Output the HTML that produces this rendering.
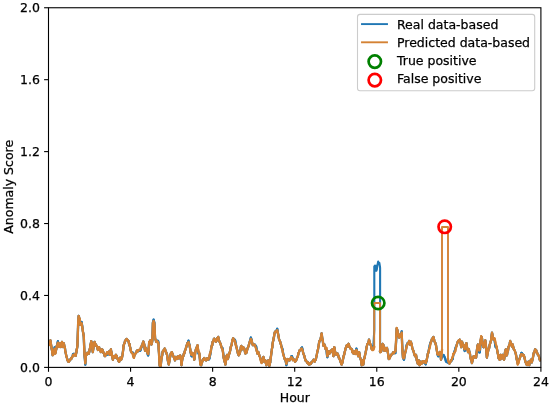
<!DOCTYPE html>
<html><head><meta charset="utf-8"><title>Anomaly Score</title>
<style>
html,body{margin:0;padding:0;background:#fff;}
svg{display:block;}
text{font-family:"DejaVu Sans","Liberation Sans",sans-serif;font-size:12.5px;fill:#000;stroke:#000;stroke-width:0.25px;}
</style></head><body>
<svg width="550" height="405" viewBox="0 0 550 405">
<rect width="550" height="405" fill="#fff"/>
<clipPath id="c"><rect x="48.5" y="7.75" width="492.4" height="359.65"/></clipPath>
<g clip-path="url(#c)" fill="none" stroke-linejoin="round" stroke-linecap="square">
<path d="M49.3 344.8L49.7 343.2L50.0 342.1L50.4 340.4L50.8 343.0L51.2 345.6L51.6 348.5L52.0 350.3L52.3 352.9L52.7 355.2L53.0 355.0L53.4 353.8L53.7 352.5L54.1 350.5L54.6 347.4L55.0 350.4L55.3 353.1L55.7 351.9L56.0 350.3L56.4 348.5L56.7 346.0L57.1 345.4L57.5 343.3L57.9 341.2L58.2 343.3L58.6 344.2L59.0 346.9L59.4 344.9L59.7 344.1L60.1 343.3L60.4 345.0L60.8 347.0L61.2 345.5L61.6 343.6L62.0 341.9L62.3 343.8L62.7 345.0L63.0 347.0L63.4 345.3L63.8 343.3L64.2 345.3L64.6 346.5L65.0 348.5L65.3 351.4L65.7 352.7L66.0 354.4L66.4 356.5L66.7 357.1L67.1 358.5L67.5 360.4L67.8 360.7L68.2 361.3L68.5 361.9L68.9 361.7L69.3 361.1L69.7 360.3L70.1 359.6L70.4 359.6L70.8 358.8L71.2 359.1L71.6 357.6L71.9 357.4L72.3 356.9L72.7 356.1L73.0 354.2L73.4 353.9L73.8 353.8L74.1 354.5L74.4 354.0L74.8 353.9L75.2 355.3L75.6 355.9L76.0 354.0L76.4 352.2L76.7 349.6L77.1 348.0L77.4 345.6L77.8 335.2L78.1 324.8L78.4 319.6L78.7 315.9L79.1 317.3L79.4 318.2L79.8 318.9L80.1 322.3L80.4 324.8L80.8 324.6L81.2 323.2L81.6 322.0L81.9 324.1L82.2 325.8L82.6 328.8L83.0 332.0L83.4 333.9L83.8 336.7L84.1 345.4L84.5 354.9L84.9 359.1L85.3 364.6L85.6 359.6L86.0 355.2L86.4 354.4L86.7 354.7L87.1 352.9L87.5 353.7L87.9 352.8L88.2 353.5L88.6 353.9L89.0 353.0L89.3 351.8L89.7 349.1L90.0 348.5L90.4 344.8L90.8 343.8L91.2 341.1L91.5 342.2L91.9 343.5L92.2 345.6L92.5 349.4L92.8 352.2L93.3 348.7L93.7 344.1L94.1 343.0L94.6 341.9L94.9 343.2L95.3 344.5L95.6 345.6L96.0 344.5L96.4 346.0L96.7 346.2L97.1 346.5L97.5 348.5L97.9 350.0L98.3 348.9L98.8 347.2L99.1 347.1L99.5 349.3L99.9 349.3L100.2 350.7L100.5 351.4L100.8 352.1L101.2 350.2L101.5 349.9L101.8 349.3L102.2 350.4L102.5 349.8L102.9 351.4L103.3 352.0L103.6 353.3L104.0 353.5L104.3 353.7L104.7 356.1L105.0 356.2L105.3 355.8L105.6 354.8L105.9 354.5L106.3 354.6L106.7 354.7L107.1 354.3L107.4 354.2L107.8 354.5L108.2 353.8L108.5 352.4L108.8 351.9L109.1 351.4L109.5 353.6L109.8 354.8L110.2 353.0L110.6 350.7L110.9 349.3L111.3 351.9L111.8 353.5L112.1 356.3L112.5 357.4L112.9 359.7L113.2 357.8L113.6 357.3L114.0 356.2L114.3 356.6L114.7 357.0L115.1 357.6L115.4 357.4L115.7 355.2L116.0 354.8L116.4 356.4L116.7 356.0L117.0 357.6L117.4 357.9L117.7 359.3L118.1 359.7L118.5 360.9L118.8 361.5L119.2 361.7L119.5 360.5L119.9 359.1L120.2 357.6L120.5 358.4L120.8 359.3L121.1 359.7L121.6 358.5L122.0 357.6L122.3 355.9L122.6 354.2L122.9 352.1L123.3 348.6L123.6 345.2L124.0 344.5L124.3 343.4L124.7 343.1L125.0 341.0L125.4 340.7L125.8 339.8L126.3 339.3L126.7 338.9L127.1 339.5L127.6 340.4L128.0 340.3L128.5 341.0L128.8 342.6L129.2 344.7L129.5 343.9L129.9 346.5L130.2 347.4L130.5 349.4L130.9 350.9L131.2 352.1L131.6 352.5L131.9 352.5L132.3 353.0L132.6 352.5L132.9 353.5L133.3 354.0L133.6 356.0L134.0 356.9L134.3 355.5L134.7 354.8L135.0 354.0L135.4 353.7L135.7 353.2L136.1 352.8L136.4 352.4L136.8 350.7L137.1 351.5L137.5 351.4L137.8 351.5L138.1 350.1L138.5 350.3L138.8 350.0L139.2 350.2L139.7 350.3L140.1 350.8L140.5 350.3L140.9 348.3L141.2 347.8L141.6 346.8L141.9 345.3L142.3 344.8L142.6 344.0L143.0 342.4L143.3 341.5L143.7 343.9L144.1 343.8L144.4 345.4L144.7 348.7L145.1 350.7L145.4 349.0L145.7 348.9L146.0 347.9L146.4 349.9L146.8 350.6L147.1 352.3L147.5 353.5L147.9 354.9L148.2 355.5L148.6 351.1L148.9 346.5L149.2 342.1L149.5 342.1L149.9 341.5L150.2 340.5L150.6 340.3L150.9 343.1L151.2 342.5L151.5 344.5L152.0 342.5L152.4 339.6L152.7 330.9L152.9 322.4L153.3 321.1L153.6 319.6L154.0 321.3L154.3 322.4L154.7 330.6L155.1 338.3L155.5 339.7L155.8 339.8L156.1 341.7L156.5 341.0L156.8 342.0L157.1 340.8L157.5 340.9L157.8 340.7L158.1 341.0L158.5 342.8L158.7 348.6L159.0 353.1L159.3 359.6L159.6 365.2L159.9 366.2L160.3 365.2L160.7 365.9L161.0 363.1L161.3 359.8L161.6 357.6L162.0 356.1L162.3 354.7L162.6 352.1L163.0 350.9L163.3 351.5L163.7 350.0L164.1 350.3L164.4 349.6L164.7 348.5L165.1 349.3L165.4 350.9L165.7 351.1L166.0 352.1L166.4 352.7L166.7 354.1L167.1 354.8L167.4 357.3L167.8 360.2L168.1 361.7L168.4 362.6L168.8 364.5L169.1 362.8L169.5 360.6L169.9 357.6L170.2 356.9L170.5 354.7L170.8 353.5L171.2 352.6L171.5 353.0L171.8 352.1L172.2 353.1L172.5 354.0L172.9 354.8L173.3 356.5L173.6 356.5L174.0 357.6L174.3 357.4L174.7 359.2L175.0 360.4L175.3 358.3L175.6 358.5L175.9 356.9L176.3 357.8L176.7 358.0L177.1 359.0L177.4 358.1L177.8 357.6L178.2 356.2L178.5 356.9L178.8 358.3L179.1 358.3L179.5 357.3L179.9 357.0L180.2 355.5L180.6 357.3L180.9 357.6L181.2 362.2L181.5 365.2L181.9 361.8L182.3 359.0L182.6 358.5L182.9 356.2L183.3 356.2L183.6 354.6L184.0 353.2L184.3 353.6L184.7 352.1L185.0 350.4L185.3 350.0L185.7 348.9L186.0 347.9L186.4 346.7L186.7 345.2L187.1 344.4L187.4 342.9L187.8 343.1L188.2 341.5L188.5 340.7L188.8 342.3L189.2 343.9L189.5 344.8L189.9 347.4L190.2 349.1L190.6 352.4L190.9 353.4L191.2 355.5L191.6 356.2L191.9 354.4L192.2 353.9L192.5 353.1L192.9 354.4L193.3 355.5L193.6 356.2L194.0 357.9L194.3 359.7L194.6 357.5L195.0 354.7L195.3 352.1L195.7 350.3L196.0 349.0L196.4 348.6L196.8 347.1L197.1 346.8L197.5 345.4L197.8 347.8L198.1 350.4L198.5 353.5L198.8 353.5L199.1 353.2L199.4 354.0L199.9 359.0L200.3 364.5L200.6 364.1L200.9 365.2L201.2 365.2L201.6 362.9L201.9 363.1L202.2 361.7L202.6 360.7L202.9 359.4L203.3 359.7L203.7 359.9L204.0 359.2L204.3 358.0L204.7 359.0L205.0 358.9L205.4 359.8L205.7 359.8L206.1 360.4L206.4 360.1L206.8 359.4L207.2 358.3L207.5 358.8L207.9 358.8L208.2 359.5L208.6 359.5L208.9 359.5L209.2 359.0L209.5 358.4L209.8 355.4L210.2 355.0L210.5 352.6L210.9 350.9L211.2 348.2L211.6 346.5L211.9 345.1L212.3 345.1L212.6 342.0L213.0 341.7L213.3 341.0L213.6 341.1L213.9 338.9L214.3 338.7L214.7 339.8L215.1 339.6L215.4 341.3L215.7 341.0L216.0 341.7L216.4 341.1L216.8 340.3L217.1 338.9L217.5 337.8L217.9 337.5L218.2 336.9L218.6 338.4L218.9 340.0L219.2 341.0L219.5 341.7L219.8 342.3L220.2 343.1L220.5 343.7L220.9 345.2L221.3 346.5L221.6 347.4L222.0 347.5L222.4 347.9L222.7 349.4L223.0 351.6L223.3 354.3L223.7 357.8L224.0 359.1L224.3 360.4L224.7 362.1L225.0 361.8L225.4 364.5L225.7 362.1L226.1 359.2L226.4 356.2L226.7 356.4L227.1 354.8L227.5 357.1L227.9 359.0L228.2 357.6L228.5 356.5L228.9 354.8L229.2 352.9L229.5 353.5L229.8 352.1L230.2 350.4L230.6 348.0L230.9 346.5L231.3 345.8L231.7 344.7L232.0 342.4L232.4 340.3L232.8 339.3L233.2 338.3L233.6 339.1L234.0 339.4L234.4 339.4L234.8 339.8L235.1 340.2L235.5 342.4L235.8 344.6L236.0 344.6L236.4 347.3L236.7 347.8L237.1 350.0L237.4 350.5L237.8 353.2L238.1 353.5L238.4 354.4L238.7 355.3L239.0 354.8L239.4 354.3L239.8 352.6L240.1 352.1L240.5 350.1L240.9 346.8L241.3 345.9L241.6 346.6L241.9 348.1L242.2 349.3L242.5 348.9L242.9 347.6L243.2 347.2L243.6 347.6L243.9 348.4L244.3 348.6L244.7 350.4L245.0 352.2L245.4 353.5L245.7 353.3L246.0 352.8L246.4 352.8L246.7 352.0L247.0 350.5L247.3 349.3L247.7 348.0L248.1 347.2L248.4 346.5L248.8 345.2L249.2 343.7L249.5 342.4L249.9 341.3L250.2 340.0L250.6 338.9L250.9 337.5L251.2 338.7L251.6 339.5L251.9 341.4L252.2 343.1L252.5 344.5L252.9 345.2L253.2 345.1L253.6 344.6L254.0 344.5L254.3 345.2L254.7 345.0L255.0 344.6L255.3 345.5L255.7 346.1L256.1 346.3L256.5 348.5L256.8 350.6L257.1 351.4L257.4 353.5L257.7 351.7L258.1 352.0L258.4 352.1L258.8 354.2L259.1 354.6L259.5 356.2L259.9 356.7L260.2 357.7L260.6 358.9L260.9 359.9L261.2 360.9L261.6 362.2L261.9 361.5L262.2 361.3L262.5 359.7L262.9 358.6L263.4 356.9L263.7 358.5L264.0 360.4L264.3 361.7L264.6 362.1L265.0 361.3L265.3 360.4L265.7 362.5L266.0 363.0L266.4 365.2L266.8 363.7L267.1 362.8L267.5 361.1L267.8 360.7L268.1 361.1L268.5 360.4L268.8 362.5L269.1 364.5L269.4 365.9L269.8 363.5L270.2 362.6L270.5 359.0L270.9 356.8L271.3 353.3L271.7 350.7L272.0 348.4L272.3 347.4L272.6 343.8L272.9 341.8L273.3 340.5L273.6 338.3L274.0 336.9L274.3 334.6L274.7 332.7L275.0 331.8L275.4 332.1L275.7 331.9L276.1 331.1L276.4 330.9L276.8 330.0L277.2 328.8L277.5 330.5L277.8 332.5L278.1 333.8L278.5 336.2L278.8 337.9L279.1 339.6L279.5 340.4L279.8 340.9L280.2 341.7L280.6 343.7L281.0 344.4L281.3 346.3L281.6 346.7L282.0 347.8L282.3 348.6L282.6 349.5L282.9 352.0L283.3 354.2L283.6 354.9L284.0 356.8L284.4 358.3L284.7 359.0L285.1 359.5L285.5 360.0L285.8 361.7L286.1 363.4L286.4 365.2L286.8 362.5L287.1 362.2L287.4 359.3L287.8 359.5L288.1 360.0L288.5 359.7L288.9 359.5L289.2 360.0L289.6 360.4L289.9 358.8L290.3 359.4L290.6 358.3L290.9 358.3L291.3 356.3L291.6 356.7L292.0 356.2L292.3 357.8L292.6 357.9L292.9 360.0L293.3 359.2L293.7 359.4L294.0 359.7L294.4 360.0L294.8 360.4L295.1 361.7L295.5 361.3L295.8 360.9L296.1 360.4L296.4 359.8L296.8 358.9L297.1 357.6L297.4 357.4L297.8 356.3L298.2 354.8L298.5 353.0L298.9 352.3L299.3 351.4L299.6 350.4L299.9 349.9L300.3 350.0L300.6 349.5L300.9 348.9L301.2 348.1L301.6 348.4L302.0 347.4L302.3 348.9L302.6 349.8L303.0 351.9L303.3 353.4L303.7 354.3L304.0 355.1L304.4 356.2L304.7 357.6L305.0 358.6L305.4 360.4L305.7 360.7L306.0 360.4L306.3 361.2L306.7 361.7L307.0 362.1L307.4 363.1L307.8 363.4L308.2 362.5L308.6 363.7L309.0 364.5L309.5 364.4L309.9 363.4L310.4 364.1L310.8 363.8L311.2 363.4L311.5 362.1L311.9 362.1L312.2 361.7L312.6 361.1L312.9 360.9L313.3 360.5L313.6 359.7L313.9 360.3L314.2 360.6L314.6 361.7L314.9 361.0L315.3 360.3L315.7 359.7L316.0 358.4L316.4 356.6L316.8 354.8L317.1 353.1L317.4 351.4L317.7 350.7L318.1 348.7L318.4 346.6L318.7 345.2L319.1 342.5L319.5 341.0L319.9 340.5L320.2 339.9L320.5 339.6L320.9 337.6L321.2 335.8L321.6 333.4L321.9 335.3L322.3 338.7L322.6 339.6L322.9 341.5L323.2 344.3L323.5 345.9L324.0 345.2L324.4 344.5L324.7 346.4L325.0 346.0L325.3 348.6L325.7 348.5L326.1 349.4L326.5 349.7L326.8 353.1L327.1 356.2L327.4 357.2L327.7 355.3L328.1 353.6L328.4 351.4L328.8 352.5L329.1 353.2L329.5 353.5L329.9 352.8L330.2 351.5L330.6 350.7L330.9 351.2L331.2 350.6L331.6 351.4L331.9 351.3L332.2 349.5L332.5 349.3L332.9 352.9L333.4 356.2L333.7 354.3L334.0 350.1L334.3 347.2L334.6 348.9L335.0 351.0L335.3 352.1L335.7 353.0L336.0 353.5L336.4 354.8L336.8 354.5L337.1 354.2L337.5 353.5L337.8 354.7L338.1 354.9L338.5 356.2L338.8 357.8L339.1 358.4L339.4 358.3L339.8 359.5L340.2 360.7L340.5 361.7L340.9 362.5L341.3 364.3L341.7 364.5L342.0 363.2L342.3 363.0L342.6 361.7L342.9 359.7L343.3 357.7L343.6 356.2L344.0 355.2L344.3 354.1L344.7 352.1L345.1 350.7L345.4 349.0L345.8 347.9L346.1 347.4L346.4 346.1L346.8 345.2L347.1 345.5L347.4 346.4L347.7 345.9L348.1 345.4L348.6 343.8L348.9 344.4L349.2 346.8L349.5 346.5L349.8 347.2L350.2 348.3L350.5 348.6L350.9 348.5L351.2 349.1L351.6 349.3L352.0 349.4L352.3 352.0L352.7 352.1L353.0 353.2L353.3 352.4L353.7 353.5L354.0 352.0L354.3 351.3L354.6 351.4L355.1 353.4L355.5 353.8L355.8 351.8L356.1 350.3L356.4 348.6L356.8 349.9L357.1 351.5L357.4 353.1L357.8 354.3L358.2 356.2L358.6 354.2L359.1 352.1L359.5 353.8L359.9 356.9L360.2 357.8L360.5 358.9L360.9 359.7L361.3 362.7L361.7 365.2L362.0 363.5L362.3 361.5L362.7 360.4L363.0 362.5L363.3 364.5L363.7 361.5L364.0 359.0L364.4 358.4L364.8 356.6L365.1 354.8L365.6 352.7L366.0 350.7L366.4 348.6L366.7 346.7L367.1 345.2L367.4 344.0L367.8 343.6L368.1 343.1L368.4 342.1L368.7 341.0L369.0 339.6L369.4 341.3L369.8 343.4L370.1 343.8L370.5 344.3L370.9 345.6L371.3 346.5L371.6 348.6L371.9 346.6L372.2 347.8L372.5 346.7L372.9 347.1L373.2 347.9L374.3 330.0L374.3 266.5L374.9 265.6L375.4 267.6L375.9 265.8L376.3 270.8L376.8 269.5L377.3 266.0L378.2 261.5L378.8 263.6L379.3 262.8L379.8 265.6L380.1 268.0L380.1 352.0L380.9 351.7L381.2 351.4L381.5 349.8L381.9 347.9L382.2 345.9L382.6 343.8L382.9 345.1L383.3 344.7L383.7 346.5L384.0 348.2L384.2 350.7L384.7 349.3L385.1 347.9L385.4 348.3L385.7 349.2L386.0 350.7L386.4 350.1L386.7 348.5L387.0 347.9L387.4 350.3L387.8 352.1L388.2 354.7L388.5 356.8L388.8 359.0L389.1 359.0L389.4 358.5L389.8 358.3L390.1 356.7L390.5 356.4L390.9 355.5L391.2 355.3L391.6 354.3L392.0 354.1L392.3 353.6L392.6 353.6L392.9 352.8L393.3 352.2L393.6 352.7L394.0 353.2L394.3 352.1L394.7 352.0L395.1 352.8L395.4 353.1L395.8 347.5L396.1 341.1L396.4 335.6L396.7 328.5L397.1 329.4L397.5 330.7L397.8 332.7L398.1 333.5L398.5 335.5L398.8 336.5L399.2 337.6L399.5 336.2L399.9 334.8L400.2 334.6L400.5 336.7L400.8 336.4L401.2 334.3L401.7 331.3L401.9 337.7L402.2 345.7L402.6 352.1L403.0 358.0L403.4 358.5L403.7 359.3L404.0 359.7L404.3 357.9L404.6 355.0L405.0 353.8L405.3 352.0L405.7 351.2L406.1 348.7L406.4 346.6L406.8 344.7L407.2 344.2L407.5 343.2L407.8 342.9L408.1 343.1L408.5 342.6L408.8 342.6L409.1 341.0L409.5 343.0L409.9 344.5L410.3 343.7L410.6 343.7L410.9 341.7L411.2 342.8L411.6 344.1L411.9 345.9L412.2 347.5L412.6 348.9L413.0 350.0L413.3 350.6L413.7 351.7L414.1 353.5L414.4 354.5L414.7 355.4L415.1 356.2L415.4 355.1L415.7 355.2L416.0 354.8L416.4 357.3L416.8 360.4L417.2 361.7L417.5 362.6L417.8 363.8L418.1 362.6L418.5 361.3L418.8 360.4L419.2 363.3L419.6 365.2L419.9 364.7L420.3 362.7L420.6 361.7L420.9 362.9L421.2 362.7L421.5 363.8L421.9 362.9L422.3 362.3L422.7 361.1L423.0 362.3L423.4 361.8L423.8 362.4L424.1 361.9L424.4 362.0L424.7 361.8L425.0 362.1L425.4 363.9L425.7 364.3L426.1 362.5L426.5 361.3L426.8 359.6L427.2 357.3L427.5 356.2L427.8 353.8L428.1 353.5L428.5 352.1L428.8 350.3L429.2 347.9L429.6 346.2L429.9 344.7L430.3 343.2L430.7 342.3L431.0 341.6L431.3 341.5L431.6 340.3L432.0 338.9L432.3 338.6L432.6 338.3L433.0 337.6L433.4 336.9L433.8 338.7L434.1 339.6L434.4 341.0L434.7 341.9L435.0 342.1L435.4 343.1L435.7 344.3L436.0 345.2L436.4 348.3L436.7 349.4L437.1 352.1L437.4 354.5L437.8 354.4L438.1 356.2L438.4 356.3L438.7 355.9L439.0 354.8L439.4 354.2L439.8 352.0L440.1 352.1L440.6 354.8L441.0 359.7L442.2 356.0L443.6 355.0L445.0 358.0L446.0 361.5L447.7 362.5L448.8 362.3L449.1 362.4L449.5 363.6L449.8 362.2L450.2 362.0L450.5 361.7L450.8 361.5L451.2 360.5L451.5 359.9L451.8 360.5L452.2 358.9L452.6 359.3L452.9 357.4L453.3 354.3L453.7 354.4L454.0 353.9L454.3 352.1L454.7 351.0L455.0 350.0L455.3 349.2L455.6 347.6L456.0 346.8L456.4 345.9L456.7 345.2L457.1 343.8L457.5 342.4L457.8 341.7L458.2 340.9L458.5 341.1L458.8 340.3L459.1 340.1L459.4 339.9L459.8 339.6L460.2 340.9L460.6 342.4L460.9 345.3L461.3 347.2L461.6 344.7L462.0 341.7L462.3 342.6L462.6 343.9L462.9 344.5L463.3 345.1L463.6 345.3L463.9 346.9L464.3 349.7L464.7 351.0L465.2 349.4L465.6 346.4L466.0 344.2L466.4 343.1L466.8 346.0L467.2 347.9L467.6 350.2L468.1 352.1L468.5 349.9L468.9 349.3L469.2 351.5L469.5 352.2L469.9 353.5L470.2 355.7L470.5 357.2L470.8 359.0L471.2 360.3L471.6 361.0L471.9 363.1L472.3 361.5L472.8 359.0L473.2 357.6L473.6 356.2L474.0 357.6L474.4 357.0L474.7 356.9L475.1 356.2L475.4 356.7L475.8 357.5L476.1 357.6L476.4 354.6L476.7 352.1L477.0 349.3L477.5 345.8L477.9 344.5L478.2 346.1L478.5 349.0L478.8 351.0L479.2 352.4L479.5 352.4L479.8 352.5L480.2 347.6L480.6 341.5L480.9 339.7L481.2 336.7L481.6 337.1L482.0 338.3L482.4 342.1L482.8 345.2L483.3 347.0L483.7 347.2L484.1 345.2L484.5 343.1L484.9 342.3L485.3 340.3L485.7 343.8L486.2 347.9L486.5 352.9L486.9 357.6L487.2 355.7L487.5 354.0L487.8 352.1L488.2 350.9L488.6 348.6L489.1 348.4L489.5 345.9L489.9 344.1L490.3 343.1L490.7 341.4L491.1 340.3L491.5 336.8L492.0 332.7L492.4 334.6L492.8 337.6L493.2 338.8L493.6 339.6L494.0 339.2L494.5 339.4L494.9 342.4L495.3 345.6L495.7 347.2L496.1 347.2L496.5 346.8L496.9 348.6L497.4 351.4L497.8 353.5L498.2 355.1L498.6 358.3L498.9 358.4L499.2 358.9L499.6 359.7L499.9 357.9L500.2 356.9L500.5 354.8L500.9 356.9L501.4 359.0L501.7 357.4L502.0 356.5L502.3 354.8L502.6 356.1L503.0 355.8L503.3 356.2L503.7 358.1L504.1 359.7L504.5 356.5L505.0 352.1L505.4 350.8L505.8 349.3L506.2 351.8L506.6 355.5L507.0 355.0L507.4 352.1L507.9 351.4L508.3 348.6L508.6 346.5L508.9 346.3L509.2 345.2L509.6 344.0L509.9 342.9L510.2 341.0L510.6 342.4L511.0 343.1L511.4 344.7L511.9 346.5L512.3 345.0L512.7 344.5L513.1 346.3L513.5 347.9L513.9 349.5L514.3 350.0L514.8 350.5L515.2 352.1L515.6 352.9L516.0 354.8L516.4 357.2L516.8 359.7L517.2 360.6L517.7 363.2L518.1 361.7L518.5 361.4L518.9 360.1L519.3 359.3L519.7 358.5L520.2 356.9L520.6 355.3L521.0 354.2L521.4 352.9L521.8 352.9L522.2 353.8L522.6 355.2L523.1 355.2L523.5 354.8L523.9 355.5L524.3 356.9L524.7 358.6L525.1 360.4L525.5 362.1L526.0 363.1L526.4 364.4L526.8 364.5L527.2 365.0L527.6 363.8L528.0 362.4L528.4 361.7L528.9 363.3L529.3 365.2L529.7 361.9L530.1 361.1L530.5 361.3L530.9 359.7L531.3 360.7L531.8 362.4L532.2 360.7L532.6 359.0L533.0 357.2L533.4 354.8L533.8 352.8L534.2 352.1L534.7 350.9L535.1 349.3L535.5 349.6L535.9 350.0L536.3 350.5L536.7 352.8L537.1 353.3L537.6 353.5L538.0 355.1L538.4 355.5L538.8 355.6L539.2 357.6L539.6 359.4L540.0 360.4L540.5 359.7" stroke="#1f77b4" stroke-width="2.1"/>
<path d="M49.3 344.8L49.7 343.2L50.0 342.1L50.4 340.4L50.8 343.0L51.2 345.6L51.6 348.5L52.0 350.3L52.3 352.9L52.7 355.2L53.0 355.0L53.4 353.8L53.7 352.5L54.1 350.5L54.6 347.4L55.0 350.4L55.3 353.1L55.7 351.9L56.0 350.3L56.4 348.5L56.7 346.0L57.1 345.4L57.5 343.3L57.9 341.2L58.2 343.3L58.6 344.2L59.0 346.9L59.4 344.9L59.7 344.1L60.1 343.3L60.4 345.0L60.8 347.0L61.2 345.5L61.6 343.6L62.0 341.9L62.3 343.8L62.7 345.0L63.0 347.0L63.4 345.3L63.8 343.3L64.2 345.3L64.6 346.5L65.0 348.5L65.3 351.4L65.7 352.7L66.0 354.4L66.4 356.5L66.7 357.1L67.1 358.5L67.5 360.4L67.8 360.7L68.2 361.3L68.5 361.9L68.9 361.7L69.3 361.1L69.7 360.3L70.1 359.6L70.4 359.6L70.8 358.8L71.2 359.1L71.6 357.6L71.9 357.4L72.3 356.9L72.7 356.1L73.0 354.2L73.4 353.9L73.8 353.8L74.1 354.5L74.4 354.0L74.8 353.9L75.2 355.3L75.6 355.9L76.0 354.0L76.4 352.2L76.7 349.6L77.1 348.0L77.4 345.6L77.8 335.2L78.1 324.8L78.4 319.6L78.7 315.9L79.1 317.3L79.4 318.2L79.8 318.9L80.1 322.3L80.4 324.8L80.8 324.6L81.2 323.2L81.6 322.0L81.9 324.1L82.2 325.8L82.6 328.8L83.0 332.0L83.4 333.9L83.8 336.7L84.1 345.4L84.5 354.9L84.9 359.1L85.3 364.6L85.6 359.6L86.0 355.2L86.4 354.4L86.7 354.7L87.1 352.9L87.5 353.7L87.9 352.8L88.2 353.5L88.6 353.9L89.0 353.0L89.3 351.8L89.7 349.1L90.0 348.5L90.4 344.8L90.8 343.8L91.2 341.1L91.5 342.2L91.9 343.5L92.2 345.6L92.5 349.4L92.8 352.2L93.3 348.7L93.7 344.1L94.1 343.0L94.6 341.9L94.9 343.2L95.3 344.5L95.6 345.6L96.0 344.5L96.4 346.0L96.7 346.2L97.1 346.5L97.5 348.5L97.9 350.0L98.3 348.9L98.8 347.2L99.1 347.1L99.5 349.3L99.9 349.3L100.2 350.7L100.5 351.4L100.8 352.1L101.2 350.2L101.5 349.9L101.8 349.3L102.2 350.4L102.5 349.8L102.9 351.4L103.3 352.0L103.6 353.3L104.0 353.5L104.3 353.7L104.7 356.1L105.0 356.2L105.3 355.8L105.6 354.8L105.9 354.5L106.3 354.6L106.7 354.7L107.1 354.3L107.4 354.2L107.8 354.5L108.2 353.8L108.5 352.4L108.8 351.9L109.1 351.4L109.5 353.6L109.8 354.8L110.2 353.0L110.6 350.7L110.9 349.3L111.3 351.9L111.8 353.5L112.1 356.3L112.5 357.4L112.9 359.7L113.2 357.8L113.6 357.3L114.0 356.2L114.3 356.6L114.7 357.0L115.1 357.6L115.4 357.4L115.7 355.2L116.0 354.8L116.4 356.4L116.7 356.0L117.0 357.6L117.4 357.9L117.7 359.3L118.1 359.7L118.5 360.9L118.8 361.5L119.2 361.7L119.5 360.5L119.9 359.1L120.2 357.6L120.5 358.4L120.8 359.3L121.1 359.7L121.6 358.5L122.0 357.6L122.3 355.9L122.6 354.2L122.9 352.1L123.3 348.6L123.6 345.2L124.0 344.5L124.3 343.4L124.7 343.1L125.0 341.0L125.4 340.7L125.8 339.8L126.3 339.3L126.7 338.9L127.1 339.5L127.6 340.4L128.0 340.3L128.5 341.0L128.8 342.6L129.2 344.7L129.5 343.9L129.9 346.5L130.2 347.4L130.5 349.4L130.9 350.9L131.2 352.1L131.6 352.5L131.9 352.5L132.3 353.0L132.6 352.5L132.9 353.5L133.3 354.0L133.6 356.0L134.0 356.9L134.3 355.5L134.7 354.8L135.0 354.0L135.4 353.7L135.7 353.2L136.1 352.8L136.4 352.4L136.8 350.7L137.1 351.5L137.5 351.4L137.8 351.5L138.1 350.1L138.5 350.3L138.8 350.0L139.2 350.2L139.7 350.3L140.1 350.8L140.5 350.3L140.9 348.3L141.2 347.8L141.6 346.8L141.9 345.3L142.3 344.8L142.6 344.0L143.0 342.4L143.3 341.5L143.7 343.9L144.1 343.8L144.4 345.4L144.7 348.7L145.1 350.7L145.4 349.0L145.7 348.9L146.0 347.9L146.4 349.9L146.8 350.6L147.1 352.3L147.5 353.5L147.9 354.9L148.2 355.5L148.6 351.1L148.9 346.5L149.2 342.1L149.5 342.1L149.9 341.5L150.2 340.5L150.6 340.3L150.9 343.1L151.2 342.5L151.5 344.5L152.0 342.5L152.4 339.6L152.7 330.9L152.9 322.4L153.3 321.1L153.6 319.6L154.0 321.3L154.3 322.4L154.7 330.6L155.1 338.3L155.5 339.7L155.8 339.8L156.1 341.7L156.5 341.0L156.8 342.0L157.1 340.8L157.5 340.9L157.8 340.7L158.1 341.0L158.5 342.8L158.7 348.6L159.0 353.1L159.3 359.6L159.6 365.2L159.9 366.2L160.3 365.2L160.7 365.9L161.0 363.1L161.3 359.8L161.6 357.6L162.0 356.1L162.3 354.7L162.6 352.1L163.0 350.9L163.3 351.5L163.7 350.0L164.1 350.3L164.4 349.6L164.7 348.5L165.1 349.3L165.4 350.9L165.7 351.1L166.0 352.1L166.4 352.7L166.7 354.1L167.1 354.8L167.4 357.3L167.8 360.2L168.1 361.7L168.4 362.6L168.8 364.5L169.1 362.8L169.5 360.6L169.9 357.6L170.2 356.9L170.5 354.7L170.8 353.5L171.2 352.6L171.5 353.0L171.8 352.1L172.2 353.1L172.5 354.0L172.9 354.8L173.3 356.5L173.6 356.5L174.0 357.6L174.3 357.4L174.7 359.2L175.0 360.4L175.3 358.3L175.6 358.5L175.9 356.9L176.3 357.8L176.7 358.0L177.1 359.0L177.4 358.1L177.8 357.6L178.2 356.2L178.5 356.9L178.8 358.3L179.1 358.3L179.5 357.3L179.9 357.0L180.2 355.5L180.6 357.3L180.9 357.6L181.2 362.2L181.5 365.2L181.9 361.8L182.3 359.0L182.6 358.5L182.9 356.2L183.3 356.2L183.6 354.6L184.0 353.2L184.3 353.6L184.7 352.1L185.0 350.4L185.3 350.0L185.7 348.9L186.0 347.9L186.4 346.7L186.7 345.2L187.1 344.4L187.4 342.9L187.8 343.1L188.2 341.5L188.5 340.7L188.8 342.3L189.2 343.9L189.5 344.8L189.9 347.4L190.2 349.1L190.6 352.4L190.9 353.4L191.2 355.5L191.6 356.2L191.9 354.4L192.2 353.9L192.5 353.1L192.9 354.4L193.3 355.5L193.6 356.2L194.0 357.9L194.3 359.7L194.6 357.5L195.0 354.7L195.3 352.1L195.7 350.3L196.0 349.0L196.4 348.6L196.8 347.1L197.1 346.8L197.5 345.4L197.8 347.8L198.1 350.4L198.5 353.5L198.8 353.5L199.1 353.2L199.4 354.0L199.9 359.0L200.3 364.5L200.6 364.1L200.9 365.2L201.2 365.2L201.6 362.9L201.9 363.1L202.2 361.7L202.6 360.7L202.9 359.4L203.3 359.7L203.7 359.9L204.0 359.2L204.3 358.0L204.7 359.0L205.0 358.9L205.4 359.8L205.7 359.8L206.1 360.4L206.4 360.1L206.8 359.4L207.2 358.3L207.5 358.8L207.9 358.8L208.2 359.5L208.6 359.5L208.9 359.5L209.2 359.0L209.5 358.4L209.8 355.4L210.2 355.0L210.5 352.6L210.9 350.9L211.2 348.2L211.6 346.5L211.9 345.1L212.3 345.1L212.6 342.0L213.0 341.7L213.3 341.0L213.6 341.1L213.9 338.9L214.3 338.7L214.7 339.8L215.1 339.6L215.4 341.3L215.7 341.0L216.0 341.7L216.4 341.1L216.8 340.3L217.1 338.9L217.5 337.8L217.9 337.5L218.2 336.9L218.6 338.4L218.9 340.0L219.2 341.0L219.5 341.7L219.8 342.3L220.2 343.1L220.5 343.7L220.9 345.2L221.3 346.5L221.6 347.4L222.0 347.5L222.4 347.9L222.7 349.4L223.0 351.6L223.3 354.3L223.7 357.8L224.0 359.1L224.3 360.4L224.7 362.1L225.0 361.8L225.4 364.5L225.7 362.1L226.1 359.2L226.4 356.2L226.7 356.4L227.1 354.8L227.5 357.1L227.9 359.0L228.2 357.6L228.5 356.5L228.9 354.8L229.2 352.9L229.5 353.5L229.8 352.1L230.2 350.4L230.6 348.0L230.9 346.5L231.3 345.8L231.7 344.7L232.0 342.4L232.4 340.3L232.8 339.3L233.2 338.3L233.6 339.1L234.0 339.4L234.4 339.4L234.8 339.8L235.1 340.2L235.5 342.4L235.8 344.6L236.0 344.6L236.4 347.3L236.7 347.8L237.1 350.0L237.4 350.5L237.8 353.2L238.1 353.5L238.4 354.4L238.7 355.3L239.0 354.8L239.4 354.3L239.8 352.6L240.1 352.1L240.5 350.1L240.9 346.8L241.3 345.9L241.6 346.6L241.9 348.1L242.2 349.3L242.5 348.9L242.9 347.6L243.2 347.2L243.6 347.6L243.9 348.4L244.3 348.6L244.7 350.4L245.0 352.2L245.4 353.5L245.7 353.3L246.0 352.8L246.4 352.8L246.7 352.0L247.0 350.5L247.3 349.3L247.7 348.0L248.1 347.2L248.4 346.5L248.8 345.2L249.2 343.7L249.5 342.4L249.9 341.3L250.2 340.0L250.6 338.9L250.9 337.5L251.2 338.7L251.6 339.5L251.9 341.4L252.2 343.1L252.5 344.5L252.9 345.2L253.2 345.1L253.6 344.6L254.0 344.5L254.3 345.2L254.7 345.0L255.0 344.6L255.3 345.5L255.7 346.1L256.1 346.3L256.5 348.5L256.8 350.6L257.1 351.4L257.4 353.5L257.7 351.7L258.1 352.0L258.4 352.1L258.8 354.2L259.1 354.6L259.5 356.2L259.9 356.7L260.2 357.7L260.6 358.9L260.9 359.9L261.2 360.9L261.6 362.2L261.9 361.5L262.2 361.3L262.5 359.7L262.9 358.6L263.4 356.9L263.7 358.5L264.0 360.4L264.3 361.7L264.6 362.1L265.0 361.3L265.3 360.4L265.7 362.5L266.0 363.0L266.4 365.2L266.8 363.7L267.1 362.8L267.5 361.1L267.8 360.7L268.1 361.1L268.5 360.4L268.8 362.5L269.1 364.5L269.4 365.9L269.8 363.5L270.2 362.6L270.5 359.0L270.9 356.8L271.3 353.3L271.7 350.7L272.0 348.4L272.3 347.4L272.6 343.8L272.9 341.8L273.3 340.5L273.6 338.3L274.0 336.9L274.3 334.6L274.7 332.7L275.0 331.8L275.4 332.1L275.7 331.9L276.1 331.1L276.4 330.9L276.8 330.0L277.2 328.8L277.5 330.5L277.8 332.5L278.1 333.8L278.5 336.2L278.8 337.9L279.1 339.6L279.5 340.4L279.8 340.9L280.2 341.7L280.6 343.7L281.0 344.4L281.3 346.3L281.6 346.7L282.0 347.8L282.3 348.6L282.6 349.5L282.9 352.0L283.3 354.2L283.6 354.9L284.0 356.8L284.4 358.3L284.7 359.0L285.1 359.5L285.5 360.0L285.8 361.7L286.1 363.4L286.4 365.2L286.8 362.5L287.1 362.2L287.4 359.3L287.8 359.5L288.1 360.0L288.5 359.7L288.9 359.5L289.2 360.0L289.6 360.4L289.9 358.8L290.3 359.4L290.6 358.3L290.9 358.3L291.3 356.3L291.6 356.7L292.0 356.2L292.3 357.8L292.6 357.9L292.9 360.0L293.3 359.2L293.7 359.4L294.0 359.7L294.4 360.0L294.8 360.4L295.1 361.7L295.5 361.3L295.8 360.9L296.1 360.4L296.4 359.8L296.8 358.9L297.1 357.6L297.4 357.4L297.8 356.3L298.2 354.8L298.5 353.0L298.9 352.3L299.3 351.4L299.6 350.4L299.9 349.9L300.3 350.0L300.6 349.5L300.9 348.9L301.2 348.1L301.6 348.4L302.0 347.4L302.3 348.9L302.6 349.8L303.0 351.9L303.3 353.4L303.7 354.3L304.0 355.1L304.4 356.2L304.7 357.6L305.0 358.6L305.4 360.4L305.7 360.7L306.0 360.4L306.3 361.2L306.7 361.7L307.0 362.1L307.4 363.1L307.8 363.4L308.2 362.5L308.6 363.7L309.0 364.5L309.5 364.4L309.9 363.4L310.4 364.1L310.8 363.8L311.2 363.4L311.5 362.1L311.9 362.1L312.2 361.7L312.6 361.1L312.9 360.9L313.3 360.5L313.6 359.7L313.9 360.3L314.2 360.6L314.6 361.7L314.9 361.0L315.3 360.3L315.7 359.7L316.0 358.4L316.4 356.6L316.8 354.8L317.1 353.1L317.4 351.4L317.7 350.7L318.1 348.7L318.4 346.6L318.7 345.2L319.1 342.5L319.5 341.0L319.9 340.5L320.2 339.9L320.5 339.6L320.9 337.6L321.2 335.8L321.6 333.4L321.9 335.3L322.3 338.7L322.6 339.6L322.9 341.5L323.2 344.3L323.5 345.9L324.0 345.2L324.4 344.5L324.7 346.4L325.0 346.0L325.3 348.6L325.7 348.5L326.1 349.4L326.5 349.7L326.8 353.1L327.1 356.2L327.4 357.2L327.7 355.3L328.1 353.6L328.4 351.4L328.8 352.5L329.1 353.2L329.5 353.5L329.9 352.8L330.2 351.5L330.6 350.7L330.9 351.2L331.2 350.6L331.6 351.4L331.9 351.3L332.2 349.5L332.5 349.3L332.9 352.9L333.4 356.2L333.7 354.3L334.0 350.1L334.3 347.2L334.6 348.9L335.0 351.0L335.3 352.1L335.7 353.0L336.0 353.5L336.4 354.8L336.8 354.5L337.1 354.2L337.5 353.5L337.8 354.7L338.1 354.9L338.5 356.2L338.8 357.8L339.1 358.4L339.4 358.3L339.8 359.5L340.2 360.7L340.5 361.7L340.9 362.5L341.3 364.3L341.7 364.5L342.0 363.2L342.3 363.0L342.6 361.7L342.9 359.7L343.3 357.7L343.6 356.2L344.0 355.2L344.3 354.1L344.7 352.1L345.1 350.7L345.4 349.0L345.8 347.9L346.1 347.4L346.4 346.1L346.8 345.2L347.1 345.5L347.4 346.4L347.7 345.9L348.1 345.4L348.6 343.8L348.9 344.4L349.2 346.8L349.5 346.5L349.8 347.2L350.2 348.3L350.5 348.6L350.9 348.5L351.2 349.1L351.6 349.3L352.0 349.4L352.3 352.0L352.7 352.1L353.0 353.2L353.3 352.4L353.7 353.5L354.0 352.0L354.3 351.3L354.6 351.4L355.1 353.4L355.5 353.8L355.8 351.8L356.1 350.3L356.4 348.6L356.8 349.9L357.1 351.5L357.4 353.1L357.8 354.3L358.2 356.2L358.6 354.2L359.1 352.1L359.5 353.8L359.9 356.9L360.2 357.8L360.5 358.9L360.9 359.7L361.3 362.7L361.7 365.2L362.0 363.5L362.3 361.5L362.7 360.4L363.0 362.5L363.3 364.5L363.7 361.5L364.0 359.0L364.4 358.4L364.8 356.6L365.1 354.8L365.6 352.7L366.0 350.7L366.4 348.6L366.7 346.7L367.1 345.2L367.4 344.0L367.8 343.6L368.1 343.1L368.4 342.1L368.7 341.0L369.0 339.6L369.4 341.3L369.8 343.4L370.1 343.8L370.5 344.3L370.9 345.6L371.3 346.5L371.6 348.6L371.9 346.6L372.2 347.8L372.5 346.7L372.9 347.1L373.2 347.9M380.1 352.0L380.9 351.7L381.2 351.4L381.5 349.8L381.9 347.9L382.2 345.9L382.6 343.8L382.9 345.1L383.3 344.7L383.7 346.5L384.0 348.2L384.2 350.7L384.7 349.3L385.1 347.9L385.4 348.3L385.7 349.2L386.0 350.7L386.4 350.1L386.7 348.5L387.0 347.9L387.4 350.3L387.8 352.1L388.2 354.7L388.5 356.8L388.8 359.0L389.1 359.0L389.4 358.5L389.8 358.3L390.1 356.7L390.5 356.4L390.9 355.5L391.2 355.3L391.6 354.3L392.0 354.1L392.3 353.6L392.6 353.6L392.9 352.8L393.3 352.2L393.6 352.7L394.0 353.2L394.3 352.1L394.7 352.0L395.1 352.8L395.4 353.1L395.8 347.5L396.1 341.1L396.4 335.6L396.7 328.5L397.1 329.4L397.5 330.7L397.8 332.7L398.1 333.5L398.5 335.5L398.8 336.5L399.2 337.6L399.5 336.2L399.9 334.8L400.2 334.6L400.5 336.7L400.8 336.4L401.2 334.3L401.7 331.3L401.9 337.7L402.2 345.7L402.6 352.1L403.0 358.0L403.4 358.5L403.7 359.3L404.0 359.7L404.3 357.9L404.6 355.0L405.0 353.8L405.3 352.0L405.7 351.2L406.1 348.7L406.4 346.6L406.8 344.7L407.2 344.2L407.5 343.2L407.8 342.9L408.1 343.1L408.5 342.6L408.8 342.6L409.1 341.0L409.5 343.0L409.9 344.5L410.3 343.7L410.6 343.7L410.9 341.7L411.2 342.8L411.6 344.1L411.9 345.9L412.2 347.5L412.6 348.9L413.0 350.0L413.3 350.6L413.7 351.7L414.1 353.5L414.4 354.5L414.7 355.4L415.1 356.2L415.4 355.1L415.7 355.2L416.0 354.8L416.4 357.3L416.8 360.4L417.2 361.7L417.5 362.6L417.8 363.8L418.1 362.6L418.5 361.3L418.8 360.4L419.2 363.3L419.6 365.2L419.9 364.7L420.3 362.7L420.6 361.7L420.9 362.9L421.2 362.7L421.5 363.8L421.9 362.9L422.3 362.3L422.7 361.1L423.0 362.3L423.4 361.8L423.8 362.4L424.1 361.9L424.4 362.0L424.7 361.8L425.0 362.1L425.4 363.9L425.7 364.3L426.1 362.5L426.5 361.3L426.8 359.6L427.2 357.3L427.5 356.2L427.8 353.8L428.1 353.5L428.5 352.1L428.8 350.3L429.2 347.9L429.6 346.2L429.9 344.7L430.3 343.2L430.7 342.3L431.0 341.6L431.3 341.5L431.6 340.3L432.0 338.9L432.3 338.6L432.6 338.3L433.0 337.6L433.4 336.9L433.8 338.7L434.1 339.6L434.4 341.0L434.7 341.9L435.0 342.1L435.4 343.1L435.7 344.3L436.0 345.2L436.4 348.3L436.7 349.4L437.1 352.1L437.4 354.5L437.8 354.4L438.1 356.2L438.4 356.3L438.7 355.9L439.0 354.8L439.4 354.2L439.8 352.0L440.1 352.1L440.6 354.8L441.0 359.7L442.2 356.0L443.6 355.0L445.0 358.0L446.0 361.5L447.7 362.5L448.8 362.3L449.1 362.4L449.5 363.6L449.8 362.2L450.2 362.0L450.5 361.7L450.8 361.5L451.2 360.5L451.5 359.9L451.8 360.5L452.2 358.9L452.6 359.3L452.9 357.4L453.3 354.3L453.7 354.4L454.0 353.9L454.3 352.1L454.7 351.0L455.0 350.0L455.3 349.2L455.6 347.6L456.0 346.8L456.4 345.9L456.7 345.2L457.1 343.8L457.5 342.4L457.8 341.7L458.2 340.9L458.5 341.1L458.8 340.3L459.1 340.1L459.4 339.9L459.8 339.6L460.2 340.9L460.6 342.4L460.9 345.3L461.3 347.2L461.6 344.7L462.0 341.7L462.3 342.6L462.6 343.9L462.9 344.5L463.3 345.1L463.6 345.3L463.9 346.9L464.3 349.7L464.7 351.0L465.2 349.4L465.6 346.4L466.0 344.2L466.4 343.1L466.8 346.0L467.2 347.9L467.6 350.2L468.1 352.1L468.5 349.9L468.9 349.3L469.2 351.5L469.5 352.2L469.9 353.5L470.2 355.7L470.5 357.2L470.8 359.0L471.2 360.3L471.6 361.0L471.9 363.1L472.3 361.5L472.8 359.0L473.2 357.6L473.6 356.2L474.0 357.6L474.4 357.0L474.7 356.9L475.1 356.2L475.4 356.7L475.8 357.5L476.1 357.6L476.4 354.6L476.7 352.1L477.0 349.3L477.5 345.8L477.9 344.5L478.2 346.1L478.5 349.0L478.8 351.0L479.2 352.4L479.5 352.4L479.8 352.5L480.2 347.6L480.6 341.5L480.9 339.7L481.2 336.7L481.6 337.1L482.0 338.3L482.4 342.1L482.8 345.2L483.3 347.0L483.7 347.2L484.1 345.2L484.5 343.1L484.9 342.3L485.3 340.3L485.7 343.8L486.2 347.9L486.5 352.9L486.9 357.6L487.2 355.7L487.5 354.0L487.8 352.1L488.2 350.9L488.6 348.6L489.1 348.4L489.5 345.9L489.9 344.1L490.3 343.1L490.7 341.4L491.1 340.3L491.5 336.8L492.0 332.7L492.4 334.6L492.8 337.6L493.2 338.8L493.6 339.6L494.0 339.2L494.5 339.4L494.9 342.4L495.3 345.6L495.7 347.2L496.1 347.2L496.5 346.8L496.9 348.6L497.4 351.4L497.8 353.5L498.2 355.1L498.6 358.3L498.9 358.4L499.2 358.9L499.6 359.7L499.9 357.9L500.2 356.9L500.5 354.8L500.9 356.9L501.4 359.0L501.7 357.4L502.0 356.5L502.3 354.8L502.6 356.1L503.0 355.8L503.3 356.2L503.7 358.1L504.1 359.7L504.5 356.5L505.0 352.1L505.4 350.8L505.8 349.3L506.2 351.8L506.6 355.5L507.0 355.0L507.4 352.1L507.9 351.4L508.3 348.6L508.6 346.5L508.9 346.3L509.2 345.2L509.6 344.0L509.9 342.9L510.2 341.0L510.6 342.4L511.0 343.1L511.4 344.7L511.9 346.5L512.3 345.0L512.7 344.5L513.1 346.3L513.5 347.9L513.9 349.5L514.3 350.0L514.8 350.5L515.2 352.1L515.6 352.9L516.0 354.8L516.4 357.2L516.8 359.7L517.2 360.6L517.7 363.2L518.1 361.7L518.5 361.4L518.9 360.1L519.3 359.3L519.7 358.5L520.2 356.9L520.6 355.3L521.0 354.2L521.4 352.9L521.8 352.9L522.2 353.8L522.6 355.2L523.1 355.2L523.5 354.8L523.9 355.5L524.3 356.9L524.7 358.6L525.1 360.4L525.5 362.1L526.0 363.1L526.4 364.4L526.8 364.5L527.2 365.0L527.6 363.8L528.0 362.4L528.4 361.7L528.9 363.3L529.3 365.2L529.7 361.9L530.1 361.1L530.5 361.3L530.9 359.7L531.3 360.7L531.8 362.4L532.2 360.7L532.6 359.0L533.0 357.2L533.4 354.8L533.8 352.8L534.2 352.1L534.7 350.9L535.1 349.3L535.5 349.6L535.9 350.0L536.3 350.5L536.7 352.8L537.1 353.3L537.6 353.5L538.0 355.1L538.4 355.5L538.8 355.6L539.2 357.6L539.6 359.4L540.0 360.4L540.5 359.7" stroke="#1f77b4" stroke-width="2.3"/>
<path d="M49.3 344.8L49.7 343.2L50.0 342.1L50.4 340.4L50.8 343.0L51.2 345.6L51.6 348.5L52.0 350.3L52.3 352.9L52.7 355.2L53.0 355.0L53.4 353.9L53.7 353.0L54.1 351.4L54.6 348.8L55.0 351.4L55.3 353.7L55.7 352.2L56.0 350.3L56.4 348.5L56.7 346.2L57.1 346.0L57.5 344.3L57.9 342.6L58.2 344.3L58.6 344.7L59.0 347.0L59.4 344.9L59.7 344.1L60.1 343.3L60.4 345.0L60.8 347.0L61.2 345.5L61.6 343.6L62.0 341.9L62.3 343.8L62.7 345.0L63.0 347.0L63.4 345.3L63.8 343.3L64.2 345.3L64.6 346.5L65.0 348.5L65.3 351.4L65.7 352.7L66.0 354.4L66.4 356.5L66.7 357.1L67.1 358.5L67.5 360.4L67.8 360.7L68.2 361.3L68.5 361.9L68.9 361.7L69.3 361.1L69.7 360.3L70.1 359.6L70.4 359.6L70.8 358.8L71.2 359.1L71.6 357.6L71.9 357.4L72.3 357.0L72.7 356.5L73.0 355.0L73.4 355.2L73.8 355.0L74.1 355.3L74.4 354.4L74.8 353.9L75.2 355.3L75.6 355.9L76.0 354.0L76.4 352.2L76.7 349.6L77.1 348.0L77.4 345.6L77.8 335.2L78.1 324.8L78.4 319.6L78.7 315.9L79.1 317.3L79.4 318.2L79.8 318.9L80.1 322.3L80.4 324.8L80.8 325.0L81.2 324.0L81.6 323.3L81.9 325.4L82.2 326.6L82.6 329.3L83.0 332.0L83.4 333.9L83.8 336.7L84.1 345.3L84.5 354.4L84.9 358.3L85.3 363.3L85.6 358.4L86.0 354.4L86.4 354.0L86.7 354.7L87.1 352.9L87.5 353.7L87.9 352.8L88.2 353.5L88.6 353.9L89.0 353.0L89.3 351.8L89.7 349.1L90.0 348.5L90.4 344.8L90.8 343.8L91.2 341.1L91.5 342.2L91.9 343.5L92.2 345.6L92.5 349.4L92.8 352.2L93.3 348.7L93.7 344.1L94.1 343.0L94.6 341.9L94.9 343.2L95.3 344.5L95.6 345.6L96.0 344.5L96.4 346.0L96.7 346.2L97.1 346.5L97.5 348.5L97.9 350.0L98.3 348.9L98.8 347.2L99.1 347.1L99.5 349.3L99.9 349.3L100.2 350.7L100.5 351.4L100.8 352.1L101.2 350.2L101.5 349.9L101.8 349.3L102.2 350.4L102.5 349.8L102.9 351.4L103.3 352.0L103.6 353.3L104.0 353.5L104.3 353.7L104.7 356.1L105.0 356.2L105.3 355.8L105.6 354.8L105.9 354.1L106.3 353.6L106.7 353.1L107.1 352.1L107.4 352.6L107.8 353.6L108.2 353.5L108.5 352.4L108.8 351.9L109.1 351.4L109.5 353.6L109.8 354.8L110.2 353.0L110.6 350.7L110.9 349.3L111.3 351.9L111.8 353.5L112.1 356.3L112.5 357.4L112.9 359.7L113.2 357.8L113.6 357.3L114.0 356.2L114.3 356.6L114.7 357.0L115.1 357.6L115.4 357.4L115.7 355.2L116.0 354.8L116.4 356.4L116.7 356.0L117.0 357.6L117.4 357.9L117.7 359.3L118.1 359.7L118.5 360.9L118.8 361.5L119.2 361.7L119.5 360.5L119.9 359.1L120.2 357.6L120.5 358.4L120.8 359.3L121.1 359.7L121.6 358.5L122.0 357.6L122.3 355.9L122.6 354.2L122.9 352.1L123.3 348.6L123.6 345.2L124.0 344.5L124.3 343.4L124.7 343.1L125.0 341.0L125.4 340.7L125.8 339.8L126.3 339.3L126.7 338.9L127.1 339.5L127.6 340.4L128.0 340.3L128.5 341.0L128.8 342.6L129.2 344.7L129.5 343.9L129.9 346.5L130.2 347.4L130.5 349.4L130.9 350.9L131.2 352.1L131.6 352.5L131.9 352.5L132.3 353.4L132.6 353.5L132.9 355.0L133.3 356.0L133.6 357.6L134.0 357.9L134.3 355.9L134.7 354.8L135.0 354.0L135.4 353.7L135.7 353.2L136.1 352.8L136.4 352.4L136.8 350.7L137.1 351.5L137.5 351.4L137.8 351.5L138.1 350.1L138.5 350.3L138.8 350.0L139.2 350.1L139.7 349.7L140.1 349.7L140.5 348.6L140.9 347.1L141.2 347.1L141.6 346.5L141.9 345.3L142.3 344.8L142.6 344.0L143.0 342.4L143.3 341.5L143.7 343.9L144.1 343.8L144.4 345.4L144.7 348.7L145.1 350.7L145.4 349.0L145.7 348.9L146.0 347.9L146.4 349.9L146.8 350.6L147.1 352.1L147.5 352.9L147.9 353.9L148.2 354.1L148.6 350.1L148.9 345.8L149.2 341.7L149.5 342.1L149.9 341.5L150.2 340.5L150.6 340.3L150.9 343.1L151.2 342.5L151.5 344.5L152.0 342.5L152.4 339.6L152.7 331.2L152.9 323.1L153.3 322.1L153.6 321.0L154.0 322.4L154.3 323.1L154.7 330.8L155.1 338.3L155.5 339.7L155.8 339.8L156.1 341.7L156.5 341.0L156.8 342.0L157.1 341.2L157.5 341.7L157.8 341.9L158.1 342.4L158.5 343.8L158.7 349.3L159.0 353.5L159.3 359.7L159.6 365.2L159.9 366.2L160.3 365.2L160.7 365.9L161.0 363.1L161.3 359.8L161.6 357.6L162.0 356.1L162.3 354.7L162.6 352.1L163.0 350.9L163.3 351.5L163.7 350.0L164.1 350.3L164.4 349.6L164.7 348.5L165.1 349.3L165.4 350.9L165.7 351.1L166.0 352.1L166.4 352.7L166.7 354.1L167.1 354.8L167.4 357.3L167.8 360.2L168.1 361.7L168.4 362.6L168.8 364.5L169.1 362.8L169.5 360.6L169.9 357.6L170.2 356.9L170.5 354.7L170.8 353.5L171.2 352.6L171.5 353.0L171.8 352.1L172.2 353.1L172.5 354.0L172.9 354.8L173.3 356.5L173.6 356.5L174.0 357.6L174.3 357.4L174.7 359.2L175.0 360.4L175.3 358.3L175.6 358.5L175.9 356.9L176.3 357.8L176.7 358.0L177.1 359.0L177.4 358.1L177.8 357.6L178.2 356.2L178.5 356.9L178.8 358.3L179.1 358.3L179.5 357.3L179.9 357.0L180.2 355.5L180.6 357.3L180.9 357.6L181.2 362.2L181.5 365.2L181.9 361.8L182.3 359.0L182.6 358.5L182.9 356.2L183.3 356.2L183.6 354.6L184.0 353.2L184.3 353.6L184.7 352.1L185.0 350.4L185.3 350.0L185.7 348.9L186.0 347.9L186.4 346.7L186.7 345.2L187.1 344.4L187.4 343.1L187.8 343.7L188.2 342.5L188.5 342.1L188.8 343.4L189.2 344.6L189.5 345.2L189.9 347.4L190.2 349.1L190.6 352.1L190.9 352.7L191.2 354.5L191.6 354.8L191.9 353.3L192.2 353.2L192.5 352.8L192.9 354.4L193.3 355.5L193.6 356.2L194.0 357.9L194.3 359.7L194.6 357.5L195.0 354.7L195.3 352.1L195.7 350.3L196.0 349.0L196.4 348.6L196.8 347.1L197.1 346.8L197.5 345.2L197.8 347.2L198.1 349.3L198.5 352.1L198.8 352.1L199.1 352.2L199.4 353.5L199.9 358.9L200.3 364.5L200.6 364.1L200.9 365.2L201.2 365.2L201.6 362.9L201.9 363.1L202.2 361.7L202.6 360.7L202.9 359.4L203.3 359.7L203.7 359.9L204.0 359.2L204.3 358.0L204.7 359.0L205.0 358.9L205.4 359.8L205.7 359.8L206.1 360.4L206.4 360.1L206.8 359.4L207.2 358.3L207.5 358.8L207.9 358.8L208.2 359.5L208.6 359.0L208.9 358.4L209.2 357.4L209.5 356.2L209.8 353.8L210.2 353.9L210.5 352.1L210.9 350.9L211.2 348.2L211.6 346.5L211.9 345.1L212.3 345.1L212.6 342.0L213.0 341.7L213.3 341.0L213.6 341.1L213.9 338.9L214.3 338.7L214.7 339.8L215.1 339.6L215.4 341.3L215.7 341.0L216.0 341.7L216.4 341.1L216.8 340.3L217.1 338.9L217.5 337.8L217.9 337.5L218.2 336.9L218.6 338.4L218.9 340.0L219.2 341.0L219.5 341.7L219.8 342.3L220.2 343.1L220.5 343.7L220.9 345.2L221.3 346.5L221.6 347.9L222.0 348.4L222.4 349.3L222.7 350.7L223.0 352.6L223.3 354.8L223.7 358.0L224.0 359.1L224.3 360.4L224.7 362.1L225.0 361.8L225.4 364.5L225.7 362.1L226.1 359.2L226.4 356.2L226.7 356.4L227.1 354.8L227.5 357.1L227.9 359.0L228.2 357.6L228.5 356.5L228.9 354.8L229.2 352.9L229.5 353.5L229.8 352.1L230.2 350.4L230.6 348.0L230.9 346.5L231.3 345.8L231.7 344.7L232.0 342.4L232.4 340.3L232.8 339.3L233.2 338.3L233.6 339.1L234.0 339.7L234.4 340.3L234.8 341.3L235.1 342.1L235.5 343.8L235.8 345.5L236.0 345.2L236.4 347.3L236.7 347.8L237.1 350.0L237.4 350.5L237.8 353.2L238.1 353.5L238.4 354.4L238.7 355.3L239.0 354.8L239.4 354.3L239.8 352.6L240.1 352.1L240.5 350.1L240.9 346.8L241.3 345.9L241.6 346.6L241.9 348.1L242.2 349.3L242.5 348.9L242.9 347.6L243.2 347.2L243.6 347.6L243.9 348.4L244.3 348.6L244.7 350.4L245.0 352.2L245.4 353.5L245.7 353.3L246.0 352.8L246.4 352.8L246.7 352.0L247.0 350.5L247.3 349.3L247.7 348.0L248.1 347.2L248.4 346.5L248.8 345.2L249.2 343.7L249.5 342.4L249.9 341.6L250.2 340.7L250.6 339.9L250.9 338.9L251.2 339.8L251.6 340.2L251.9 341.7L252.2 343.1L252.5 344.5L252.9 345.2L253.2 345.1L253.6 344.6L254.0 344.5L254.3 345.2L254.7 345.0L255.0 345.1L255.3 346.5L255.7 347.7L256.1 348.4L256.5 350.0L256.8 351.5L257.1 351.8L257.4 353.5L257.7 351.7L258.1 352.0L258.4 352.1L258.8 354.2L259.1 354.6L259.5 356.2L259.9 356.7L260.2 358.1L260.6 359.7L260.9 361.1L261.2 362.2L261.6 363.1L261.9 362.1L262.2 361.6L262.5 359.7L262.9 358.6L263.4 356.9L263.7 358.5L264.0 360.4L264.3 361.7L264.6 362.1L265.0 361.3L265.3 360.4L265.7 362.5L266.0 363.0L266.4 365.2L266.8 363.7L267.1 362.8L267.5 361.1L267.8 360.7L268.1 361.1L268.5 360.4L268.8 362.5L269.1 364.5L269.4 365.9L269.8 363.5L270.2 362.6L270.5 359.0L270.9 356.8L271.3 353.3L271.7 350.7L272.0 348.4L272.3 347.4L272.6 343.8L272.9 341.8L273.3 340.5L273.6 338.3L274.0 336.9L274.3 334.6L274.7 332.7L275.0 331.8L275.4 332.1L275.7 331.9L276.1 331.3L276.4 331.5L276.8 331.0L277.2 330.2L277.5 331.5L277.8 333.2L278.1 334.1L278.5 336.2L278.8 337.9L279.1 339.6L279.5 340.4L279.8 340.9L280.2 341.7L280.6 343.7L281.0 344.4L281.3 346.5L281.6 347.4L282.0 348.9L282.3 350.0L282.6 350.9L282.9 353.0L283.3 354.8L283.6 355.0L284.0 356.8L284.4 358.3L284.7 359.0L285.1 359.5L285.5 359.7L285.8 361.0L286.1 362.3L286.4 363.8L286.8 361.5L287.1 361.5L287.4 359.0L287.8 359.5L288.1 360.0L288.5 359.7L288.9 359.5L289.2 360.0L289.6 360.4L289.9 358.8L290.3 359.4L290.6 358.3L290.9 358.6L291.3 357.0L291.6 357.7L292.0 357.6L292.3 358.8L292.6 358.6L292.9 360.4L293.3 359.2L293.7 359.4L294.0 359.7L294.4 360.0L294.8 360.4L295.1 361.7L295.5 361.3L295.8 360.9L296.1 360.4L296.4 359.8L296.8 358.9L297.1 357.6L297.4 357.4L297.8 356.3L298.2 354.8L298.5 353.0L298.9 352.3L299.3 351.4L299.6 350.4L299.9 349.9L300.3 350.0L300.6 349.5L300.9 349.1L301.2 348.6L301.6 349.3L302.0 348.7L302.3 350.0L302.6 350.5L303.0 352.3L303.3 353.5L303.7 354.3L304.0 355.1L304.4 356.2L304.7 357.6L305.0 358.6L305.4 360.4L305.7 360.7L306.0 360.4L306.3 361.2L306.7 361.7L307.0 362.1L307.4 363.1L307.8 363.4L308.2 362.5L308.6 363.7L309.0 364.5L309.5 364.4L309.9 363.4L310.4 364.1L310.8 363.8L311.2 363.4L311.5 362.1L311.9 362.1L312.2 361.7L312.6 361.1L312.9 360.9L313.3 360.5L313.6 359.7L313.9 360.3L314.2 360.6L314.6 361.7L314.9 361.0L315.3 360.3L315.7 359.7L316.0 358.4L316.4 356.6L316.8 354.8L317.1 353.1L317.4 351.4L317.7 350.7L318.1 348.7L318.4 346.6L318.7 345.2L319.1 342.5L319.5 341.0L319.9 340.5L320.2 339.9L320.5 339.6L320.9 337.6L321.2 335.8L321.6 333.4L321.9 335.3L322.3 338.7L322.6 339.6L322.9 341.5L323.2 344.3L323.5 345.9L324.0 345.2L324.4 344.5L324.7 346.4L325.0 346.0L325.3 348.6L325.7 348.0L326.1 348.3L326.5 347.9L326.8 351.0L327.1 354.6L327.4 356.2L327.7 354.8L328.1 353.6L328.4 351.4L328.8 352.5L329.1 353.2L329.5 353.5L329.9 352.8L330.2 351.5L330.6 350.7L330.9 351.2L331.2 350.6L331.6 351.4L331.9 351.3L332.2 349.5L332.5 349.3L332.9 352.9L333.4 356.2L333.7 354.3L334.0 350.1L334.3 347.2L334.6 348.9L335.0 351.0L335.3 352.1L335.7 353.0L336.0 353.5L336.4 354.8L336.8 354.5L337.1 354.2L337.5 353.5L337.8 354.7L338.1 354.9L338.5 356.2L338.8 357.8L339.1 358.4L339.4 358.3L339.8 359.5L340.2 360.7L340.5 361.7L340.9 362.5L341.3 364.3L341.7 364.5L342.0 363.2L342.3 363.0L342.6 361.7L342.9 359.7L343.3 357.7L343.6 356.2L344.0 355.2L344.3 354.1L344.7 352.1L345.1 350.7L345.4 349.0L345.8 347.9L346.1 347.4L346.4 346.1L346.8 345.2L347.1 345.5L347.4 346.4L347.7 345.9L348.1 345.4L348.6 343.8L348.9 344.4L349.2 346.8L349.5 346.5L349.8 347.2L350.2 348.3L350.5 348.6L350.9 348.5L351.2 349.1L351.6 349.3L352.0 349.4L352.3 352.0L352.7 352.1L353.0 353.2L353.3 352.4L353.7 353.5L354.0 352.0L354.3 351.3L354.6 351.4L355.1 353.4L355.5 354.1L355.8 352.5L356.1 351.4L356.4 350.0L356.8 351.0L357.1 352.2L357.4 353.5L357.8 354.3L358.2 356.2L358.6 354.2L359.1 352.1L359.5 353.8L359.9 356.9L360.2 357.8L360.5 358.9L360.9 359.7L361.3 362.7L361.7 365.2L362.0 363.5L362.3 361.5L362.7 360.4L363.0 362.5L363.3 364.5L363.7 361.5L364.0 359.0L364.4 358.4L364.8 356.6L365.1 354.8L365.6 352.7L366.0 350.7L366.4 348.6L366.7 346.7L367.1 345.2L367.4 344.0L367.8 343.6L368.1 343.1L368.4 342.1L368.7 341.0L369.0 339.6L369.4 341.3L369.8 343.4L370.1 343.8L370.5 344.3L370.9 345.6L371.3 346.5L371.6 349.1L371.9 347.9L372.2 350.0L372.5 349.7L372.9 350.1L373.2 350.0L373.5 349.4L373.9 348.6L374.2 347.2L374.2 303.0L380.0 303.0L380.0 351.4L380.3 352.1L380.5 352.3L380.9 351.7L381.2 351.4L381.5 349.8L381.9 347.9L382.2 345.9L382.6 343.8L382.9 345.1L383.3 344.7L383.7 346.5L384.0 348.2L384.2 350.7L384.7 349.3L385.1 347.9L385.4 348.3L385.7 349.2L386.0 350.7L386.4 350.1L386.7 348.5L387.0 347.9L387.4 350.3L387.8 352.1L388.2 354.7L388.5 356.8L388.8 359.0L389.1 359.0L389.4 358.5L389.8 358.3L390.1 356.7L390.5 356.4L390.9 355.5L391.2 355.3L391.6 354.3L392.0 354.1L392.3 353.6L392.6 353.6L392.9 352.8L393.3 352.2L393.6 352.7L394.0 353.2L394.3 352.1L394.7 351.6L395.1 351.7L395.4 351.4L395.8 345.4L396.1 339.6L396.4 334.5L396.7 327.9L397.1 329.4L397.5 330.7L397.8 332.7L398.1 333.5L398.5 335.5L398.8 336.5L399.2 337.6L399.5 336.2L399.9 334.8L400.2 334.6L400.5 336.9L400.8 336.9L401.2 335.2L401.7 332.7L401.9 338.8L402.2 346.5L402.6 352.4L403.0 357.6L403.4 357.8L403.7 358.3L404.0 358.3L404.3 356.9L404.6 354.3L405.0 353.5L405.3 352.0L405.7 351.4L406.1 349.3L406.4 347.6L406.8 346.0L407.2 345.2L407.5 343.8L407.8 343.2L408.1 343.1L408.5 342.6L408.8 342.6L409.1 341.0L409.5 343.0L409.9 344.5L410.3 343.7L410.6 343.7L410.9 341.7L411.2 342.8L411.6 344.1L411.9 345.9L412.2 347.5L412.6 348.9L413.0 350.0L413.3 350.6L413.7 351.7L414.1 353.5L414.4 354.5L414.7 355.4L415.1 356.2L415.4 355.1L415.7 355.2L416.0 354.8L416.4 357.3L416.8 360.4L417.2 361.7L417.5 362.6L417.8 363.8L418.1 362.6L418.5 361.3L418.8 360.4L419.2 363.3L419.6 365.2L419.9 364.7L420.3 362.7L420.6 361.7L420.9 362.9L421.2 362.7L421.5 363.8L421.9 362.9L422.3 362.3L422.7 361.1L423.0 362.3L423.4 361.8L423.8 362.4L424.1 361.9L424.4 361.6L424.7 361.1L425.0 361.0L425.4 362.4L425.7 363.1L426.1 361.8L426.5 361.1L426.8 359.6L427.2 357.3L427.5 356.2L427.8 353.8L428.1 353.5L428.5 352.1L428.8 350.8L429.2 349.0L429.6 347.9L429.9 346.8L430.3 344.6L430.7 343.1L431.0 341.9L431.3 341.5L431.6 340.3L432.0 338.9L432.3 338.6L432.6 338.3L433.0 337.6L433.4 336.9L433.8 338.7L434.1 339.6L434.4 341.0L434.7 341.9L435.0 342.1L435.4 343.1L435.7 344.3L436.0 345.2L436.4 348.3L436.7 349.4L437.1 352.1L437.4 354.2L437.8 353.6L438.1 354.8L438.4 354.4L438.7 354.0L439.0 353.5L439.4 353.5L439.8 351.9L440.1 352.1L440.6 354.8L441.0 359.7L441.3 356.9L441.7 353.5L442.0 350.0L442.0 227.0L448.0 227.0L448.0 359.0L448.2 360.6L448.4 361.5L448.8 362.3L449.1 362.4L449.5 363.6L449.8 362.2L450.2 362.0L450.5 361.7L450.8 361.5L451.2 360.5L451.5 359.7L451.8 359.8L452.2 357.7L452.6 357.6L452.9 356.3L453.3 353.6L453.7 354.1L454.0 353.9L454.3 352.6L454.7 352.1L455.0 351.6L455.3 351.3L455.6 349.3L456.0 347.9L456.4 346.4L456.7 345.2L457.1 343.8L457.5 342.4L457.8 341.7L458.2 340.9L458.5 341.1L458.8 340.3L459.1 340.1L459.4 339.9L459.8 339.6L460.2 340.9L460.6 342.4L460.9 345.3L461.3 347.2L461.6 344.7L462.0 341.7L462.3 342.6L462.6 343.9L462.9 344.5L463.3 345.1L463.6 345.3L463.9 346.5L464.3 348.7L464.7 349.3L465.2 347.5L465.6 345.2L466.0 343.6L466.4 343.1L466.8 346.0L467.2 347.9L467.6 350.2L468.1 352.1L468.5 349.9L468.9 349.3L469.2 351.5L469.5 352.2L469.9 353.5L470.2 355.7L470.5 357.2L470.8 359.0L471.2 360.3L471.6 361.0L471.9 363.1L472.3 361.5L472.8 359.0L473.2 357.6L473.6 356.2L474.0 357.6L474.4 357.0L474.7 356.9L475.1 356.2L475.4 356.7L475.8 357.5L476.1 357.6L476.4 354.6L476.7 352.1L477.0 349.3L477.5 345.8L477.9 344.5L478.2 346.1L478.5 348.5L478.8 350.0L479.2 350.4L479.5 349.4L479.8 349.3L480.2 344.4L480.6 339.6L480.9 338.7L481.2 336.2L481.6 337.1L482.0 338.3L482.4 342.1L482.8 345.2L483.3 347.0L483.7 347.2L484.1 345.2L484.5 343.1L484.9 342.3L485.3 340.3L485.7 343.8L486.2 347.9L486.5 352.9L486.9 357.6L487.2 355.7L487.5 354.0L487.8 352.1L488.2 350.9L488.6 348.6L489.1 348.4L489.5 345.9L489.9 344.1L490.3 343.1L490.7 341.4L491.1 340.3L491.5 336.8L492.0 332.7L492.4 334.6L492.8 337.6L493.2 338.8L493.6 339.6L494.0 339.2L494.5 338.3L494.9 339.8L495.3 341.7L495.7 343.7L496.1 345.2L496.5 346.1L496.9 348.6L497.4 351.4L497.8 353.5L498.2 355.1L498.6 358.3L498.9 358.4L499.2 358.9L499.6 359.7L499.9 357.9L500.2 356.9L500.5 354.8L500.9 356.9L501.4 359.0L501.7 357.4L502.0 356.5L502.3 354.8L502.6 356.1L503.0 355.8L503.3 356.2L503.7 358.1L504.1 359.7L504.5 356.5L505.0 352.1L505.4 350.8L505.8 349.3L506.2 351.8L506.6 355.5L507.0 355.0L507.4 352.1L507.9 351.4L508.3 348.6L508.6 346.5L508.9 346.3L509.2 345.2L509.6 344.0L509.9 342.9L510.2 341.0L510.6 342.4L511.0 343.1L511.4 344.7L511.9 346.5L512.3 345.0L512.7 344.5L513.1 346.3L513.5 347.9L513.9 349.5L514.3 350.0L514.8 350.5L515.2 352.1L515.6 352.9L516.0 354.8L516.4 357.2L516.8 359.7L517.2 361.1L517.7 364.5L518.1 363.7L518.5 363.1L518.9 361.2L519.3 359.7L519.7 358.5L520.2 356.9L520.6 355.5L521.0 354.8L521.4 354.0L521.8 354.1L522.2 354.6L522.6 355.5L523.1 355.2L523.5 354.8L523.9 355.5L524.3 356.9L524.7 358.6L525.1 360.4L525.5 362.1L526.0 363.1L526.4 364.4L526.8 364.5L527.2 365.0L527.6 363.8L528.0 362.4L528.4 361.7L528.9 363.3L529.3 365.2L529.7 361.9L530.1 361.1L530.5 361.3L530.9 359.7L531.3 360.7L531.8 362.4L532.2 360.7L532.6 359.0L533.0 357.2L533.4 354.8L533.8 352.8L534.2 352.1L534.7 350.9L535.1 349.3L535.5 349.6L535.9 350.0L536.3 350.5L536.7 352.8L537.1 353.3L537.6 353.5L538.0 355.1L538.4 355.5L538.8 355.6L539.2 357.6L539.6 359.4L540.0 360.4L540.5 359.7" stroke="#d48234" stroke-width="1.9"/>
<path d="M49.3 344.8L49.7 343.2L50.0 342.1L50.4 340.4L50.8 343.0L51.2 345.6L51.6 348.5L52.0 350.3L52.3 352.9L52.7 355.2L53.0 355.0L53.4 353.9L53.7 353.0L54.1 351.4L54.6 348.8L55.0 351.4L55.3 353.7L55.7 352.2L56.0 350.3L56.4 348.5L56.7 346.2L57.1 346.0L57.5 344.3L57.9 342.6L58.2 344.3L58.6 344.7L59.0 347.0L59.4 344.9L59.7 344.1L60.1 343.3L60.4 345.0L60.8 347.0L61.2 345.5L61.6 343.6L62.0 341.9L62.3 343.8L62.7 345.0L63.0 347.0L63.4 345.3L63.8 343.3L64.2 345.3L64.6 346.5L65.0 348.5L65.3 351.4L65.7 352.7L66.0 354.4L66.4 356.5L66.7 357.1L67.1 358.5L67.5 360.4L67.8 360.7L68.2 361.3L68.5 361.9L68.9 361.7L69.3 361.1L69.7 360.3L70.1 359.6L70.4 359.6L70.8 358.8L71.2 359.1L71.6 357.6L71.9 357.4L72.3 357.0L72.7 356.5L73.0 355.0L73.4 355.2L73.8 355.0L74.1 355.3L74.4 354.4L74.8 353.9L75.2 355.3L75.6 355.9L76.0 354.0L76.4 352.2L76.7 349.6L77.1 348.0L77.4 345.6L77.8 335.2L78.1 324.8L78.4 319.6L78.7 315.9L79.1 317.3L79.4 318.2L79.8 318.9L80.1 322.3L80.4 324.8L80.8 325.0L81.2 324.0L81.6 323.3L81.9 325.4L82.2 326.6L82.6 329.3L83.0 332.0L83.4 333.9L83.8 336.7L84.1 345.3L84.5 354.4L84.9 358.3L85.3 363.3L85.6 358.4L86.0 354.4L86.4 354.0L86.7 354.7L87.1 352.9L87.5 353.7L87.9 352.8L88.2 353.5L88.6 353.9L89.0 353.0L89.3 351.8L89.7 349.1L90.0 348.5L90.4 344.8L90.8 343.8L91.2 341.1L91.5 342.2L91.9 343.5L92.2 345.6L92.5 349.4L92.8 352.2L93.3 348.7L93.7 344.1L94.1 343.0L94.6 341.9L94.9 343.2L95.3 344.5L95.6 345.6L96.0 344.5L96.4 346.0L96.7 346.2L97.1 346.5L97.5 348.5L97.9 350.0L98.3 348.9L98.8 347.2L99.1 347.1L99.5 349.3L99.9 349.3L100.2 350.7L100.5 351.4L100.8 352.1L101.2 350.2L101.5 349.9L101.8 349.3L102.2 350.4L102.5 349.8L102.9 351.4L103.3 352.0L103.6 353.3L104.0 353.5L104.3 353.7L104.7 356.1L105.0 356.2L105.3 355.8L105.6 354.8L105.9 354.1L106.3 353.6L106.7 353.1L107.1 352.1L107.4 352.6L107.8 353.6L108.2 353.5L108.5 352.4L108.8 351.9L109.1 351.4L109.5 353.6L109.8 354.8L110.2 353.0L110.6 350.7L110.9 349.3L111.3 351.9L111.8 353.5L112.1 356.3L112.5 357.4L112.9 359.7L113.2 357.8L113.6 357.3L114.0 356.2L114.3 356.6L114.7 357.0L115.1 357.6L115.4 357.4L115.7 355.2L116.0 354.8L116.4 356.4L116.7 356.0L117.0 357.6L117.4 357.9L117.7 359.3L118.1 359.7L118.5 360.9L118.8 361.5L119.2 361.7L119.5 360.5L119.9 359.1L120.2 357.6L120.5 358.4L120.8 359.3L121.1 359.7L121.6 358.5L122.0 357.6L122.3 355.9L122.6 354.2L122.9 352.1L123.3 348.6L123.6 345.2L124.0 344.5L124.3 343.4L124.7 343.1L125.0 341.0L125.4 340.7L125.8 339.8L126.3 339.3L126.7 338.9L127.1 339.5L127.6 340.4L128.0 340.3L128.5 341.0L128.8 342.6L129.2 344.7L129.5 343.9L129.9 346.5L130.2 347.4L130.5 349.4L130.9 350.9L131.2 352.1L131.6 352.5L131.9 352.5L132.3 353.4L132.6 353.5L132.9 355.0L133.3 356.0L133.6 357.6L134.0 357.9L134.3 355.9L134.7 354.8L135.0 354.0L135.4 353.7L135.7 353.2L136.1 352.8L136.4 352.4L136.8 350.7L137.1 351.5L137.5 351.4L137.8 351.5L138.1 350.1L138.5 350.3L138.8 350.0L139.2 350.1L139.7 349.7L140.1 349.7L140.5 348.6L140.9 347.1L141.2 347.1L141.6 346.5L141.9 345.3L142.3 344.8L142.6 344.0L143.0 342.4L143.3 341.5L143.7 343.9L144.1 343.8L144.4 345.4L144.7 348.7L145.1 350.7L145.4 349.0L145.7 348.9L146.0 347.9L146.4 349.9L146.8 350.6L147.1 352.1L147.5 352.9L147.9 353.9L148.2 354.1L148.6 350.1L148.9 345.8L149.2 341.7L149.5 342.1L149.9 341.5L150.2 340.5L150.6 340.3L150.9 343.1L151.2 342.5L151.5 344.5L152.0 342.5L152.4 339.6L152.7 331.2L152.9 323.1L153.3 322.1L153.6 321.0L154.0 322.4L154.3 323.1L154.7 330.8L155.1 338.3L155.5 339.7L155.8 339.8L156.1 341.7L156.5 341.0L156.8 342.0L157.1 341.2L157.5 341.7L157.8 341.9L158.1 342.4L158.5 343.8L158.7 349.3L159.0 353.5L159.3 359.7L159.6 365.2L159.9 366.2L160.3 365.2L160.7 365.9L161.0 363.1L161.3 359.8L161.6 357.6L162.0 356.1L162.3 354.7L162.6 352.1L163.0 350.9L163.3 351.5L163.7 350.0L164.1 350.3L164.4 349.6L164.7 348.5L165.1 349.3L165.4 350.9L165.7 351.1L166.0 352.1L166.4 352.7L166.7 354.1L167.1 354.8L167.4 357.3L167.8 360.2L168.1 361.7L168.4 362.6L168.8 364.5L169.1 362.8L169.5 360.6L169.9 357.6L170.2 356.9L170.5 354.7L170.8 353.5L171.2 352.6L171.5 353.0L171.8 352.1L172.2 353.1L172.5 354.0L172.9 354.8L173.3 356.5L173.6 356.5L174.0 357.6L174.3 357.4L174.7 359.2L175.0 360.4L175.3 358.3L175.6 358.5L175.9 356.9L176.3 357.8L176.7 358.0L177.1 359.0L177.4 358.1L177.8 357.6L178.2 356.2L178.5 356.9L178.8 358.3L179.1 358.3L179.5 357.3L179.9 357.0L180.2 355.5L180.6 357.3L180.9 357.6L181.2 362.2L181.5 365.2L181.9 361.8L182.3 359.0L182.6 358.5L182.9 356.2L183.3 356.2L183.6 354.6L184.0 353.2L184.3 353.6L184.7 352.1L185.0 350.4L185.3 350.0L185.7 348.9L186.0 347.9L186.4 346.7L186.7 345.2L187.1 344.4L187.4 343.1L187.8 343.7L188.2 342.5L188.5 342.1L188.8 343.4L189.2 344.6L189.5 345.2L189.9 347.4L190.2 349.1L190.6 352.1L190.9 352.7L191.2 354.5L191.6 354.8L191.9 353.3L192.2 353.2L192.5 352.8L192.9 354.4L193.3 355.5L193.6 356.2L194.0 357.9L194.3 359.7L194.6 357.5L195.0 354.7L195.3 352.1L195.7 350.3L196.0 349.0L196.4 348.6L196.8 347.1L197.1 346.8L197.5 345.2L197.8 347.2L198.1 349.3L198.5 352.1L198.8 352.1L199.1 352.2L199.4 353.5L199.9 358.9L200.3 364.5L200.6 364.1L200.9 365.2L201.2 365.2L201.6 362.9L201.9 363.1L202.2 361.7L202.6 360.7L202.9 359.4L203.3 359.7L203.7 359.9L204.0 359.2L204.3 358.0L204.7 359.0L205.0 358.9L205.4 359.8L205.7 359.8L206.1 360.4L206.4 360.1L206.8 359.4L207.2 358.3L207.5 358.8L207.9 358.8L208.2 359.5L208.6 359.0L208.9 358.4L209.2 357.4L209.5 356.2L209.8 353.8L210.2 353.9L210.5 352.1L210.9 350.9L211.2 348.2L211.6 346.5L211.9 345.1L212.3 345.1L212.6 342.0L213.0 341.7L213.3 341.0L213.6 341.1L213.9 338.9L214.3 338.7L214.7 339.8L215.1 339.6L215.4 341.3L215.7 341.0L216.0 341.7L216.4 341.1L216.8 340.3L217.1 338.9L217.5 337.8L217.9 337.5L218.2 336.9L218.6 338.4L218.9 340.0L219.2 341.0L219.5 341.7L219.8 342.3L220.2 343.1L220.5 343.7L220.9 345.2L221.3 346.5L221.6 347.9L222.0 348.4L222.4 349.3L222.7 350.7L223.0 352.6L223.3 354.8L223.7 358.0L224.0 359.1L224.3 360.4L224.7 362.1L225.0 361.8L225.4 364.5L225.7 362.1L226.1 359.2L226.4 356.2L226.7 356.4L227.1 354.8L227.5 357.1L227.9 359.0L228.2 357.6L228.5 356.5L228.9 354.8L229.2 352.9L229.5 353.5L229.8 352.1L230.2 350.4L230.6 348.0L230.9 346.5L231.3 345.8L231.7 344.7L232.0 342.4L232.4 340.3L232.8 339.3L233.2 338.3L233.6 339.1L234.0 339.7L234.4 340.3L234.8 341.3L235.1 342.1L235.5 343.8L235.8 345.5L236.0 345.2L236.4 347.3L236.7 347.8L237.1 350.0L237.4 350.5L237.8 353.2L238.1 353.5L238.4 354.4L238.7 355.3L239.0 354.8L239.4 354.3L239.8 352.6L240.1 352.1L240.5 350.1L240.9 346.8L241.3 345.9L241.6 346.6L241.9 348.1L242.2 349.3L242.5 348.9L242.9 347.6L243.2 347.2L243.6 347.6L243.9 348.4L244.3 348.6L244.7 350.4L245.0 352.2L245.4 353.5L245.7 353.3L246.0 352.8L246.4 352.8L246.7 352.0L247.0 350.5L247.3 349.3L247.7 348.0L248.1 347.2L248.4 346.5L248.8 345.2L249.2 343.7L249.5 342.4L249.9 341.6L250.2 340.7L250.6 339.9L250.9 338.9L251.2 339.8L251.6 340.2L251.9 341.7L252.2 343.1L252.5 344.5L252.9 345.2L253.2 345.1L253.6 344.6L254.0 344.5L254.3 345.2L254.7 345.0L255.0 345.1L255.3 346.5L255.7 347.7L256.1 348.4L256.5 350.0L256.8 351.5L257.1 351.8L257.4 353.5L257.7 351.7L258.1 352.0L258.4 352.1L258.8 354.2L259.1 354.6L259.5 356.2L259.9 356.7L260.2 358.1L260.6 359.7L260.9 361.1L261.2 362.2L261.6 363.1L261.9 362.1L262.2 361.6L262.5 359.7L262.9 358.6L263.4 356.9L263.7 358.5L264.0 360.4L264.3 361.7L264.6 362.1L265.0 361.3L265.3 360.4L265.7 362.5L266.0 363.0L266.4 365.2L266.8 363.7L267.1 362.8L267.5 361.1L267.8 360.7L268.1 361.1L268.5 360.4L268.8 362.5L269.1 364.5L269.4 365.9L269.8 363.5L270.2 362.6L270.5 359.0L270.9 356.8L271.3 353.3L271.7 350.7L272.0 348.4L272.3 347.4L272.6 343.8L272.9 341.8L273.3 340.5L273.6 338.3L274.0 336.9L274.3 334.6L274.7 332.7L275.0 331.8L275.4 332.1L275.7 331.9L276.1 331.3L276.4 331.5L276.8 331.0L277.2 330.2L277.5 331.5L277.8 333.2L278.1 334.1L278.5 336.2L278.8 337.9L279.1 339.6L279.5 340.4L279.8 340.9L280.2 341.7L280.6 343.7L281.0 344.4L281.3 346.5L281.6 347.4L282.0 348.9L282.3 350.0L282.6 350.9L282.9 353.0L283.3 354.8L283.6 355.0L284.0 356.8L284.4 358.3L284.7 359.0L285.1 359.5L285.5 359.7L285.8 361.0L286.1 362.3L286.4 363.8L286.8 361.5L287.1 361.5L287.4 359.0L287.8 359.5L288.1 360.0L288.5 359.7L288.9 359.5L289.2 360.0L289.6 360.4L289.9 358.8L290.3 359.4L290.6 358.3L290.9 358.6L291.3 357.0L291.6 357.7L292.0 357.6L292.3 358.8L292.6 358.6L292.9 360.4L293.3 359.2L293.7 359.4L294.0 359.7L294.4 360.0L294.8 360.4L295.1 361.7L295.5 361.3L295.8 360.9L296.1 360.4L296.4 359.8L296.8 358.9L297.1 357.6L297.4 357.4L297.8 356.3L298.2 354.8L298.5 353.0L298.9 352.3L299.3 351.4L299.6 350.4L299.9 349.9L300.3 350.0L300.6 349.5L300.9 349.1L301.2 348.6L301.6 349.3L302.0 348.7L302.3 350.0L302.6 350.5L303.0 352.3L303.3 353.5L303.7 354.3L304.0 355.1L304.4 356.2L304.7 357.6L305.0 358.6L305.4 360.4L305.7 360.7L306.0 360.4L306.3 361.2L306.7 361.7L307.0 362.1L307.4 363.1L307.8 363.4L308.2 362.5L308.6 363.7L309.0 364.5L309.5 364.4L309.9 363.4L310.4 364.1L310.8 363.8L311.2 363.4L311.5 362.1L311.9 362.1L312.2 361.7L312.6 361.1L312.9 360.9L313.3 360.5L313.6 359.7L313.9 360.3L314.2 360.6L314.6 361.7L314.9 361.0L315.3 360.3L315.7 359.7L316.0 358.4L316.4 356.6L316.8 354.8L317.1 353.1L317.4 351.4L317.7 350.7L318.1 348.7L318.4 346.6L318.7 345.2L319.1 342.5L319.5 341.0L319.9 340.5L320.2 339.9L320.5 339.6L320.9 337.6L321.2 335.8L321.6 333.4L321.9 335.3L322.3 338.7L322.6 339.6L322.9 341.5L323.2 344.3L323.5 345.9L324.0 345.2L324.4 344.5L324.7 346.4L325.0 346.0L325.3 348.6L325.7 348.0L326.1 348.3L326.5 347.9L326.8 351.0L327.1 354.6L327.4 356.2L327.7 354.8L328.1 353.6L328.4 351.4L328.8 352.5L329.1 353.2L329.5 353.5L329.9 352.8L330.2 351.5L330.6 350.7L330.9 351.2L331.2 350.6L331.6 351.4L331.9 351.3L332.2 349.5L332.5 349.3L332.9 352.9L333.4 356.2L333.7 354.3L334.0 350.1L334.3 347.2L334.6 348.9L335.0 351.0L335.3 352.1L335.7 353.0L336.0 353.5L336.4 354.8L336.8 354.5L337.1 354.2L337.5 353.5L337.8 354.7L338.1 354.9L338.5 356.2L338.8 357.8L339.1 358.4L339.4 358.3L339.8 359.5L340.2 360.7L340.5 361.7L340.9 362.5L341.3 364.3L341.7 364.5L342.0 363.2L342.3 363.0L342.6 361.7L342.9 359.7L343.3 357.7L343.6 356.2L344.0 355.2L344.3 354.1L344.7 352.1L345.1 350.7L345.4 349.0L345.8 347.9L346.1 347.4L346.4 346.1L346.8 345.2L347.1 345.5L347.4 346.4L347.7 345.9L348.1 345.4L348.6 343.8L348.9 344.4L349.2 346.8L349.5 346.5L349.8 347.2L350.2 348.3L350.5 348.6L350.9 348.5L351.2 349.1L351.6 349.3L352.0 349.4L352.3 352.0L352.7 352.1L353.0 353.2L353.3 352.4L353.7 353.5L354.0 352.0L354.3 351.3L354.6 351.4L355.1 353.4L355.5 354.1L355.8 352.5L356.1 351.4L356.4 350.0L356.8 351.0L357.1 352.2L357.4 353.5L357.8 354.3L358.2 356.2L358.6 354.2L359.1 352.1L359.5 353.8L359.9 356.9L360.2 357.8L360.5 358.9L360.9 359.7L361.3 362.7L361.7 365.2L362.0 363.5L362.3 361.5L362.7 360.4L363.0 362.5L363.3 364.5L363.7 361.5L364.0 359.0L364.4 358.4L364.8 356.6L365.1 354.8L365.6 352.7L366.0 350.7L366.4 348.6L366.7 346.7L367.1 345.2L367.4 344.0L367.8 343.6L368.1 343.1L368.4 342.1L368.7 341.0L369.0 339.6L369.4 341.3L369.8 343.4L370.1 343.8L370.5 344.3L370.9 345.6L371.3 346.5L371.6 349.1L371.9 347.9L372.2 350.0L372.5 349.7L372.9 350.1L373.2 350.0L373.5 349.4L373.9 348.6L374.2 347.2M380.0 351.4L380.3 352.1L380.5 352.3L380.9 351.7L381.2 351.4L381.5 349.8L381.9 347.9L382.2 345.9L382.6 343.8L382.9 345.1L383.3 344.7L383.7 346.5L384.0 348.2L384.2 350.7L384.7 349.3L385.1 347.9L385.4 348.3L385.7 349.2L386.0 350.7L386.4 350.1L386.7 348.5L387.0 347.9L387.4 350.3L387.8 352.1L388.2 354.7L388.5 356.8L388.8 359.0L389.1 359.0L389.4 358.5L389.8 358.3L390.1 356.7L390.5 356.4L390.9 355.5L391.2 355.3L391.6 354.3L392.0 354.1L392.3 353.6L392.6 353.6L392.9 352.8L393.3 352.2L393.6 352.7L394.0 353.2L394.3 352.1L394.7 351.6L395.1 351.7L395.4 351.4L395.8 345.4L396.1 339.6L396.4 334.5L396.7 327.9L397.1 329.4L397.5 330.7L397.8 332.7L398.1 333.5L398.5 335.5L398.8 336.5L399.2 337.6L399.5 336.2L399.9 334.8L400.2 334.6L400.5 336.9L400.8 336.9L401.2 335.2L401.7 332.7L401.9 338.8L402.2 346.5L402.6 352.4L403.0 357.6L403.4 357.8L403.7 358.3L404.0 358.3L404.3 356.9L404.6 354.3L405.0 353.5L405.3 352.0L405.7 351.4L406.1 349.3L406.4 347.6L406.8 346.0L407.2 345.2L407.5 343.8L407.8 343.2L408.1 343.1L408.5 342.6L408.8 342.6L409.1 341.0L409.5 343.0L409.9 344.5L410.3 343.7L410.6 343.7L410.9 341.7L411.2 342.8L411.6 344.1L411.9 345.9L412.2 347.5L412.6 348.9L413.0 350.0L413.3 350.6L413.7 351.7L414.1 353.5L414.4 354.5L414.7 355.4L415.1 356.2L415.4 355.1L415.7 355.2L416.0 354.8L416.4 357.3L416.8 360.4L417.2 361.7L417.5 362.6L417.8 363.8L418.1 362.6L418.5 361.3L418.8 360.4L419.2 363.3L419.6 365.2L419.9 364.7L420.3 362.7L420.6 361.7L420.9 362.9L421.2 362.7L421.5 363.8L421.9 362.9L422.3 362.3L422.7 361.1L423.0 362.3L423.4 361.8L423.8 362.4L424.1 361.9L424.4 361.6L424.7 361.1L425.0 361.0L425.4 362.4L425.7 363.1L426.1 361.8L426.5 361.1L426.8 359.6L427.2 357.3L427.5 356.2L427.8 353.8L428.1 353.5L428.5 352.1L428.8 350.8L429.2 349.0L429.6 347.9L429.9 346.8L430.3 344.6L430.7 343.1L431.0 341.9L431.3 341.5L431.6 340.3L432.0 338.9L432.3 338.6L432.6 338.3L433.0 337.6L433.4 336.9L433.8 338.7L434.1 339.6L434.4 341.0L434.7 341.9L435.0 342.1L435.4 343.1L435.7 344.3L436.0 345.2L436.4 348.3L436.7 349.4L437.1 352.1L437.4 354.2L437.8 353.6L438.1 354.8L438.4 354.4L438.7 354.0L439.0 353.5L439.4 353.5L439.8 351.9L440.1 352.1L440.6 354.8L441.0 359.7L441.3 356.9L441.7 353.5L442.0 350.0M448.0 359.0L448.2 360.6L448.4 361.5L448.8 362.3L449.1 362.4L449.5 363.6L449.8 362.2L450.2 362.0L450.5 361.7L450.8 361.5L451.2 360.5L451.5 359.7L451.8 359.8L452.2 357.7L452.6 357.6L452.9 356.3L453.3 353.6L453.7 354.1L454.0 353.9L454.3 352.6L454.7 352.1L455.0 351.6L455.3 351.3L455.6 349.3L456.0 347.9L456.4 346.4L456.7 345.2L457.1 343.8L457.5 342.4L457.8 341.7L458.2 340.9L458.5 341.1L458.8 340.3L459.1 340.1L459.4 339.9L459.8 339.6L460.2 340.9L460.6 342.4L460.9 345.3L461.3 347.2L461.6 344.7L462.0 341.7L462.3 342.6L462.6 343.9L462.9 344.5L463.3 345.1L463.6 345.3L463.9 346.5L464.3 348.7L464.7 349.3L465.2 347.5L465.6 345.2L466.0 343.6L466.4 343.1L466.8 346.0L467.2 347.9L467.6 350.2L468.1 352.1L468.5 349.9L468.9 349.3L469.2 351.5L469.5 352.2L469.9 353.5L470.2 355.7L470.5 357.2L470.8 359.0L471.2 360.3L471.6 361.0L471.9 363.1L472.3 361.5L472.8 359.0L473.2 357.6L473.6 356.2L474.0 357.6L474.4 357.0L474.7 356.9L475.1 356.2L475.4 356.7L475.8 357.5L476.1 357.6L476.4 354.6L476.7 352.1L477.0 349.3L477.5 345.8L477.9 344.5L478.2 346.1L478.5 348.5L478.8 350.0L479.2 350.4L479.5 349.4L479.8 349.3L480.2 344.4L480.6 339.6L480.9 338.7L481.2 336.2L481.6 337.1L482.0 338.3L482.4 342.1L482.8 345.2L483.3 347.0L483.7 347.2L484.1 345.2L484.5 343.1L484.9 342.3L485.3 340.3L485.7 343.8L486.2 347.9L486.5 352.9L486.9 357.6L487.2 355.7L487.5 354.0L487.8 352.1L488.2 350.9L488.6 348.6L489.1 348.4L489.5 345.9L489.9 344.1L490.3 343.1L490.7 341.4L491.1 340.3L491.5 336.8L492.0 332.7L492.4 334.6L492.8 337.6L493.2 338.8L493.6 339.6L494.0 339.2L494.5 338.3L494.9 339.8L495.3 341.7L495.7 343.7L496.1 345.2L496.5 346.1L496.9 348.6L497.4 351.4L497.8 353.5L498.2 355.1L498.6 358.3L498.9 358.4L499.2 358.9L499.6 359.7L499.9 357.9L500.2 356.9L500.5 354.8L500.9 356.9L501.4 359.0L501.7 357.4L502.0 356.5L502.3 354.8L502.6 356.1L503.0 355.8L503.3 356.2L503.7 358.1L504.1 359.7L504.5 356.5L505.0 352.1L505.4 350.8L505.8 349.3L506.2 351.8L506.6 355.5L507.0 355.0L507.4 352.1L507.9 351.4L508.3 348.6L508.6 346.5L508.9 346.3L509.2 345.2L509.6 344.0L509.9 342.9L510.2 341.0L510.6 342.4L511.0 343.1L511.4 344.7L511.9 346.5L512.3 345.0L512.7 344.5L513.1 346.3L513.5 347.9L513.9 349.5L514.3 350.0L514.8 350.5L515.2 352.1L515.6 352.9L516.0 354.8L516.4 357.2L516.8 359.7L517.2 361.1L517.7 364.5L518.1 363.7L518.5 363.1L518.9 361.2L519.3 359.7L519.7 358.5L520.2 356.9L520.6 355.5L521.0 354.8L521.4 354.0L521.8 354.1L522.2 354.6L522.6 355.5L523.1 355.2L523.5 354.8L523.9 355.5L524.3 356.9L524.7 358.6L525.1 360.4L525.5 362.1L526.0 363.1L526.4 364.4L526.8 364.5L527.2 365.0L527.6 363.8L528.0 362.4L528.4 361.7L528.9 363.3L529.3 365.2L529.7 361.9L530.1 361.1L530.5 361.3L530.9 359.7L531.3 360.7L531.8 362.4L532.2 360.7L532.6 359.0L533.0 357.2L533.4 354.8L533.8 352.8L534.2 352.1L534.7 350.9L535.1 349.3L535.5 349.6L535.9 350.0L536.3 350.5L536.7 352.8L537.1 353.3L537.6 353.5L538.0 355.1L538.4 355.5L538.8 355.6L539.2 357.6L539.6 359.4L540.0 360.4L540.5 359.7" stroke="#d48234" stroke-width="2.3"/>
<circle cx="378.2" cy="303.0" r="6.2" stroke="#008000" stroke-width="2.7"/>
<circle cx="444.7" cy="226.8" r="6.2" stroke="#ff0000" stroke-width="2.7"/>
</g>
<g stroke="#000" stroke-width="1.1" fill="none">
<rect x="48.5" y="7.75" width="492.4" height="359.65" />
<line x1="48.50" y1="367.4" x2="48.50" y2="371.8"/><line x1="130.57" y1="367.4" x2="130.57" y2="371.8"/><line x1="212.63" y1="367.4" x2="212.63" y2="371.8"/><line x1="294.70" y1="367.4" x2="294.70" y2="371.8"/><line x1="376.77" y1="367.4" x2="376.77" y2="371.8"/><line x1="458.83" y1="367.4" x2="458.83" y2="371.8"/><line x1="540.90" y1="367.4" x2="540.90" y2="371.8"/><line x1="44.1" y1="367.40" x2="48.5" y2="367.40"/><line x1="44.1" y1="295.47" x2="48.5" y2="295.47"/><line x1="44.1" y1="223.54" x2="48.5" y2="223.54"/><line x1="44.1" y1="151.61" x2="48.5" y2="151.61"/><line x1="44.1" y1="79.68" x2="48.5" y2="79.68"/><line x1="44.1" y1="7.75" x2="48.5" y2="7.75"/>
</g>
<text x="48.50" y="385.6" text-anchor="middle">0</text><text x="130.57" y="385.6" text-anchor="middle">4</text><text x="212.63" y="385.6" text-anchor="middle">8</text><text x="294.70" y="385.6" text-anchor="middle">12</text><text x="376.77" y="385.6" text-anchor="middle">16</text><text x="458.83" y="385.6" text-anchor="middle">20</text><text x="540.90" y="385.6" text-anchor="middle">24</text><text x="40" y="372.10" text-anchor="end">0.0</text><text x="40" y="300.17" text-anchor="end">0.4</text><text x="40" y="228.24" text-anchor="end">0.8</text><text x="40" y="156.31" text-anchor="end">1.2</text><text x="40" y="84.38" text-anchor="end">1.6</text><text x="40" y="12.45" text-anchor="end">2.0</text>
<text x="294.8" y="402.2" text-anchor="middle">Hour</text>
<text transform="translate(12.6 186.8) rotate(-90)" text-anchor="middle">Anomaly Score</text>
<rect x="357.5" y="14.4" width="177.2" height="76.3" rx="2.5" ry="2.5" fill="#fff" fill-opacity="0.8" stroke="#ccc" stroke-width="1.1"/>
<line x1="362" y1="24.1" x2="387" y2="24.1" stroke="#1f77b4" stroke-width="1.9" stroke-linecap="square"/>
<line x1="362" y1="42.3" x2="387" y2="42.3" stroke="#d48234" stroke-width="1.9" stroke-linecap="square"/>
<circle cx="374.8" cy="61.6" r="6.2" fill="none" stroke="#008000" stroke-width="2.7"/>
<circle cx="374.8" cy="80.1" r="6.2" fill="none" stroke="#ff0000" stroke-width="2.7"/>
<text x="397" y="28.6">Real data-based</text>
<text x="397" y="46.9">Predicted data-based</text>
<text x="397" y="65.2">True positive</text>
<text x="397" y="83.3">False positive</text>
</svg>
</body></html>
